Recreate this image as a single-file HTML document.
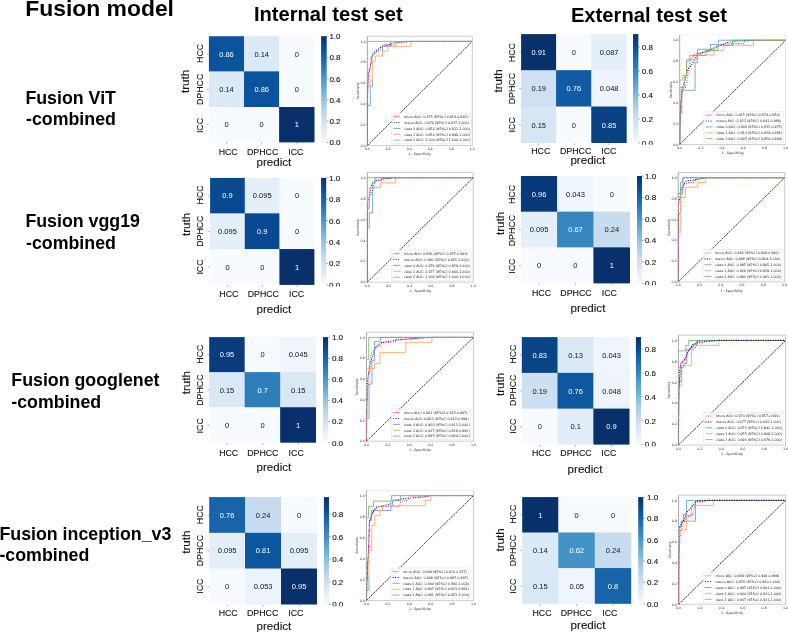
<!DOCTYPE html>
<html lang="en"><head><meta charset="utf-8"><title>Fusion model confusion matrices and ROC curves</title>
<style>html,body{margin:0;padding:0;background:#fff;}body{width:788px;height:633px;overflow:hidden;}svg{display:block;font-family:'Liberation Sans', sans-serif;}</style>
</head><body>
<svg width="788" height="633" viewBox="0 0 788 633">
<rect width="788" height="633" fill="#fff"/>
<defs><linearGradient id="gb" x1="0" y1="0" x2="0" y2="1"><stop offset="0.0000" stop-color="#08306b"/><stop offset="0.0625" stop-color="#084082"/><stop offset="0.1250" stop-color="#08509b"/><stop offset="0.1875" stop-color="#1460a8"/><stop offset="0.2500" stop-color="#2070b4"/><stop offset="0.3125" stop-color="#3181bd"/><stop offset="0.3750" stop-color="#4191c6"/><stop offset="0.4375" stop-color="#56a0ce"/><stop offset="0.5000" stop-color="#6aaed6"/><stop offset="0.5625" stop-color="#84bcdb"/><stop offset="0.6250" stop-color="#9dcae1"/><stop offset="0.6875" stop-color="#b2d2e8"/><stop offset="0.7500" stop-color="#c6dbef"/><stop offset="0.8125" stop-color="#d2e3f3"/><stop offset="0.8750" stop-color="#deebf7"/><stop offset="0.9375" stop-color="#eaf3fb"/><stop offset="1.0000" stop-color="#f7fbff"/></linearGradient></defs>
<g font-weight="bold" fill="#000">
<text x="25.2" y="15.7" font-size="22.9">Fusion model</text>
<text x="253.9" y="20.8" font-size="20.15">Internal test set</text>
<text x="570.9" y="21.6" font-size="20.2">External test set</text>
<text x="25.4" y="104.0" font-size="17.8">Fusion ViT</text>
<text x="26.0" y="125.1" font-size="17.8">-combined</text>
<text x="25.4" y="227.4" font-size="17.8">Fusion vgg19</text>
<text x="26.0" y="248.7" font-size="17.8">-combined</text>
<text x="11.3" y="386.1" font-size="17.8">Fusion googlenet</text>
<text x="11.3" y="407.7" font-size="17.8">-combined</text>
<text x="-0.6" y="539.5" font-size="17.8">Fusion inception_v3</text>
<text x="-0.6" y="561.1" font-size="17.8">-combined</text>
</g>
<g>
<rect x="209.90" y="37.20" width="34.80" height="35.00" fill="#0a549e"/>
<rect x="243.50" y="37.20" width="36.40" height="35.00" fill="#dce9f6"/>
<rect x="278.70" y="37.20" width="34.80" height="35.00" fill="#f7fbff"/>
<rect x="209.90" y="71.00" width="34.80" height="36.60" fill="#dce9f6"/>
<rect x="243.50" y="71.00" width="36.40" height="36.60" fill="#0a549e"/>
<rect x="278.70" y="71.00" width="34.80" height="36.60" fill="#f7fbff"/>
<rect x="209.90" y="106.40" width="34.80" height="35.00" fill="#f7fbff"/>
<rect x="243.50" y="106.40" width="36.40" height="35.00" fill="#f7fbff"/>
<rect x="278.70" y="106.40" width="34.80" height="35.00" fill="#08306b"/>
<rect x="208.90" y="36.20" width="35.20" height="35.40" fill="#0a549e"/>
<rect x="244.10" y="36.20" width="35.20" height="35.40" fill="#dce9f6"/>
<rect x="279.30" y="36.20" width="35.20" height="35.40" fill="#f7fbff"/>
<rect x="208.90" y="71.60" width="35.20" height="35.40" fill="#dce9f6"/>
<rect x="244.10" y="71.60" width="35.20" height="35.40" fill="#0a549e"/>
<rect x="279.30" y="71.60" width="35.20" height="35.40" fill="#f7fbff"/>
<rect x="208.90" y="107.00" width="35.20" height="35.40" fill="#f7fbff"/>
<rect x="244.10" y="107.00" width="35.20" height="35.40" fill="#f7fbff"/>
<rect x="279.30" y="107.00" width="35.20" height="35.40" fill="#08306b"/>
<text x="226.50" y="56.56" font-size="7.50" fill="#ffffff" text-anchor="middle">0.86</text>
<text x="261.70" y="56.56" font-size="7.50" fill="#141414" text-anchor="middle">0.14</text>
<text x="296.90" y="56.56" font-size="7.50" fill="#141414" text-anchor="middle">0</text>
<text x="226.50" y="91.96" font-size="7.50" fill="#141414" text-anchor="middle">0.14</text>
<text x="261.70" y="91.96" font-size="7.50" fill="#ffffff" text-anchor="middle">0.86</text>
<text x="296.90" y="91.96" font-size="7.50" fill="#141414" text-anchor="middle">0</text>
<text x="226.50" y="127.36" font-size="7.50" fill="#141414" text-anchor="middle">0</text>
<text x="261.70" y="127.36" font-size="7.50" fill="#141414" text-anchor="middle">0</text>
<text x="296.90" y="127.36" font-size="7.50" fill="#ffffff" text-anchor="middle">1</text>
<line x1="207.10" y1="53.90" x2="208.70" y2="53.90" stroke="#555" stroke-width="0.5"/>
<line x1="207.10" y1="89.30" x2="208.70" y2="89.30" stroke="#555" stroke-width="0.5"/>
<line x1="207.10" y1="124.70" x2="208.70" y2="124.70" stroke="#555" stroke-width="0.5"/>
<line x1="226.50" y1="142.70" x2="226.50" y2="144.30" stroke="#555" stroke-width="0.5"/>
<line x1="261.70" y1="142.70" x2="261.70" y2="144.30" stroke="#555" stroke-width="0.5"/>
<line x1="296.90" y1="142.70" x2="296.90" y2="144.30" stroke="#555" stroke-width="0.5"/>
<text x="228.20" y="155.00" font-size="8.80" fill="#141414" stroke="#141414" stroke-width="0.12" text-anchor="middle">HCC</text>
<text x="262.60" y="155.00" font-size="8.80" fill="#141414" stroke="#141414" stroke-width="0.12" text-anchor="middle">DPHCC</text>
<text x="295.90" y="155.00" font-size="8.80" fill="#141414" stroke="#141414" stroke-width="0.12" text-anchor="middle">ICC</text>
<text x="273.90" y="166.40" font-size="11.60" fill="#141414" stroke="#141414" stroke-width="0.12" text-anchor="middle">predict</text>
<text transform="translate(202.50 53.40) rotate(-90)" font-size="8.80" fill="#141414" stroke="#141414" stroke-width="0.12" text-anchor="middle">HCC</text>
<text transform="translate(202.50 89.40) rotate(-90)" font-size="8.80" fill="#141414" stroke="#141414" stroke-width="0.12" text-anchor="middle">DPHCC</text>
<text transform="translate(202.50 125.50) rotate(-90)" font-size="8.80" fill="#141414" stroke="#141414" stroke-width="0.12" text-anchor="middle">ICC</text>
<text transform="translate(189.20 81.50) rotate(-90)" font-size="11.60" fill="#141414" stroke="#141414" stroke-width="0.12" text-anchor="middle">truth</text>
<rect x="321.10" y="36.20" width="5.60" height="106.20" fill="url(#gb)"/>
<g>
<line x1="326.70" y1="142.40" x2="328.40" y2="142.40" stroke="#444" stroke-width="0.5"/>
<text x="329.40" y="145.28" font-size="8.00" fill="#141414" stroke="#141414" stroke-width="0.12">0.0</text>
<line x1="326.70" y1="121.16" x2="328.40" y2="121.16" stroke="#444" stroke-width="0.5"/>
<text x="329.40" y="124.04" font-size="8.00" fill="#141414" stroke="#141414" stroke-width="0.12">0.2</text>
<line x1="326.70" y1="99.92" x2="328.40" y2="99.92" stroke="#444" stroke-width="0.5"/>
<text x="329.40" y="102.80" font-size="8.00" fill="#141414" stroke="#141414" stroke-width="0.12">0.4</text>
<line x1="326.70" y1="78.68" x2="328.40" y2="78.68" stroke="#444" stroke-width="0.5"/>
<text x="329.40" y="81.56" font-size="8.00" fill="#141414" stroke="#141414" stroke-width="0.12">0.6</text>
<line x1="326.70" y1="57.44" x2="328.40" y2="57.44" stroke="#444" stroke-width="0.5"/>
<text x="329.40" y="60.32" font-size="8.00" fill="#141414" stroke="#141414" stroke-width="0.12">0.8</text>
<line x1="326.70" y1="36.20" x2="328.40" y2="36.20" stroke="#444" stroke-width="0.5"/>
<text x="329.40" y="39.08" font-size="8.00" fill="#141414" stroke="#141414" stroke-width="0.12">1.0</text>
</g>
</g>
<g>
<rect x="522.10" y="35.10" width="34.80" height="35.90" fill="#08306b"/>
<rect x="555.70" y="35.10" width="36.40" height="35.90" fill="#f7fbff"/>
<rect x="590.90" y="35.10" width="34.80" height="35.90" fill="#e4eff9"/>
<rect x="522.10" y="69.80" width="34.80" height="37.50" fill="#cee0f2"/>
<rect x="555.70" y="69.80" width="36.40" height="37.50" fill="#105ba4"/>
<rect x="590.90" y="69.80" width="34.80" height="37.50" fill="#edf4fc"/>
<rect x="522.10" y="106.10" width="34.80" height="35.90" fill="#d6e6f4"/>
<rect x="555.70" y="106.10" width="36.40" height="35.90" fill="#f7fbff"/>
<rect x="590.90" y="106.10" width="34.80" height="35.90" fill="#084184"/>
<rect x="521.10" y="34.10" width="35.20" height="36.30" fill="#08306b"/>
<rect x="556.30" y="34.10" width="35.20" height="36.30" fill="#f7fbff"/>
<rect x="591.50" y="34.10" width="35.20" height="36.30" fill="#e4eff9"/>
<rect x="521.10" y="70.40" width="35.20" height="36.30" fill="#cee0f2"/>
<rect x="556.30" y="70.40" width="35.20" height="36.30" fill="#105ba4"/>
<rect x="591.50" y="70.40" width="35.20" height="36.30" fill="#edf4fc"/>
<rect x="521.10" y="106.70" width="35.20" height="36.30" fill="#d6e6f4"/>
<rect x="556.30" y="106.70" width="35.20" height="36.30" fill="#f7fbff"/>
<rect x="591.50" y="106.70" width="35.20" height="36.30" fill="#084184"/>
<text x="538.70" y="54.91" font-size="7.50" fill="#ffffff" text-anchor="middle">0.91</text>
<text x="573.90" y="54.91" font-size="7.50" fill="#141414" text-anchor="middle">0</text>
<text x="609.10" y="54.91" font-size="7.50" fill="#141414" text-anchor="middle">0.087</text>
<text x="538.70" y="91.21" font-size="7.50" fill="#141414" text-anchor="middle">0.19</text>
<text x="573.90" y="91.21" font-size="7.50" fill="#ffffff" text-anchor="middle">0.76</text>
<text x="609.10" y="91.21" font-size="7.50" fill="#141414" text-anchor="middle">0.048</text>
<text x="538.70" y="127.51" font-size="7.50" fill="#141414" text-anchor="middle">0.15</text>
<text x="573.90" y="127.51" font-size="7.50" fill="#141414" text-anchor="middle">0</text>
<text x="609.10" y="127.51" font-size="7.50" fill="#ffffff" text-anchor="middle">0.85</text>
<line x1="519.30" y1="52.25" x2="520.90" y2="52.25" stroke="#555" stroke-width="0.5"/>
<line x1="519.30" y1="88.55" x2="520.90" y2="88.55" stroke="#555" stroke-width="0.5"/>
<line x1="519.30" y1="124.85" x2="520.90" y2="124.85" stroke="#555" stroke-width="0.5"/>
<line x1="538.70" y1="143.30" x2="538.70" y2="144.90" stroke="#555" stroke-width="0.5"/>
<line x1="573.90" y1="143.30" x2="573.90" y2="144.90" stroke="#555" stroke-width="0.5"/>
<line x1="609.10" y1="143.30" x2="609.10" y2="144.90" stroke="#555" stroke-width="0.5"/>
<text x="540.80" y="154.20" font-size="8.80" fill="#141414" stroke="#141414" stroke-width="0.12" text-anchor="middle">HCC</text>
<text x="575.60" y="154.20" font-size="8.80" fill="#141414" stroke="#141414" stroke-width="0.12" text-anchor="middle">DPHCC</text>
<text x="608.80" y="154.20" font-size="8.80" fill="#141414" stroke="#141414" stroke-width="0.12" text-anchor="middle">ICC</text>
<text x="587.80" y="164.30" font-size="11.60" fill="#141414" stroke="#141414" stroke-width="0.12" text-anchor="middle">predict</text>
<text transform="translate(514.90 52.60) rotate(-90)" font-size="8.80" fill="#141414" stroke="#141414" stroke-width="0.12" text-anchor="middle">HCC</text>
<text transform="translate(514.90 88.60) rotate(-90)" font-size="8.80" fill="#141414" stroke="#141414" stroke-width="0.12" text-anchor="middle">DPHCC</text>
<text transform="translate(514.90 124.80) rotate(-90)" font-size="8.80" fill="#141414" stroke="#141414" stroke-width="0.12" text-anchor="middle">ICC</text>
<text transform="translate(501.60 81.00) rotate(-90)" font-size="11.60" fill="#141414" stroke="#141414" stroke-width="0.12" text-anchor="middle">truth</text>
<rect x="633.00" y="34.10" width="5.40" height="108.90" fill="url(#gb)"/>
<clipPath id="cl1"><rect x="632.00" y="0" width="40" height="144.70"/></clipPath>
<g clip-path="url(#cl1)">
<line x1="638.40" y1="143.00" x2="640.10" y2="143.00" stroke="#444" stroke-width="0.5"/>
<text x="641.80" y="145.88" font-size="8.00" fill="#141414" stroke="#141414" stroke-width="0.12">0.0</text>
<line x1="638.40" y1="119.07" x2="640.10" y2="119.07" stroke="#444" stroke-width="0.5"/>
<text x="641.80" y="121.95" font-size="8.00" fill="#141414" stroke="#141414" stroke-width="0.12">0.2</text>
<line x1="638.40" y1="95.13" x2="640.10" y2="95.13" stroke="#444" stroke-width="0.5"/>
<text x="641.80" y="98.01" font-size="8.00" fill="#141414" stroke="#141414" stroke-width="0.12">0.4</text>
<line x1="638.40" y1="71.20" x2="640.10" y2="71.20" stroke="#444" stroke-width="0.5"/>
<text x="641.80" y="74.08" font-size="8.00" fill="#141414" stroke="#141414" stroke-width="0.12">0.6</text>
<line x1="638.40" y1="47.26" x2="640.10" y2="47.26" stroke="#444" stroke-width="0.5"/>
<text x="641.80" y="50.14" font-size="8.00" fill="#141414" stroke="#141414" stroke-width="0.12">0.8</text>
</g>
</g>
<g>
<rect x="211.10" y="178.90" width="34.37" height="35.27" fill="#084a91"/>
<rect x="244.27" y="178.90" width="35.97" height="35.27" fill="#e4eff9"/>
<rect x="279.03" y="178.90" width="34.37" height="35.27" fill="#f7fbff"/>
<rect x="211.10" y="212.97" width="34.37" height="36.87" fill="#e4eff9"/>
<rect x="244.27" y="212.97" width="35.97" height="36.87" fill="#084a91"/>
<rect x="279.03" y="212.97" width="34.37" height="36.87" fill="#f7fbff"/>
<rect x="211.10" y="248.63" width="34.37" height="35.27" fill="#f7fbff"/>
<rect x="244.27" y="248.63" width="35.97" height="35.27" fill="#f7fbff"/>
<rect x="279.03" y="248.63" width="34.37" height="35.27" fill="#08306b"/>
<rect x="210.10" y="177.90" width="34.77" height="35.67" fill="#084a91"/>
<rect x="244.87" y="177.90" width="34.77" height="35.67" fill="#e4eff9"/>
<rect x="279.63" y="177.90" width="34.77" height="35.67" fill="#f7fbff"/>
<rect x="210.10" y="213.57" width="34.77" height="35.67" fill="#e4eff9"/>
<rect x="244.87" y="213.57" width="34.77" height="35.67" fill="#084a91"/>
<rect x="279.63" y="213.57" width="34.77" height="35.67" fill="#f7fbff"/>
<rect x="210.10" y="249.23" width="34.77" height="35.67" fill="#f7fbff"/>
<rect x="244.87" y="249.23" width="34.77" height="35.67" fill="#f7fbff"/>
<rect x="279.63" y="249.23" width="34.77" height="35.67" fill="#08306b"/>
<text x="227.48" y="198.40" font-size="7.50" fill="#ffffff" text-anchor="middle">0.9</text>
<text x="262.25" y="198.40" font-size="7.50" fill="#141414" text-anchor="middle">0.095</text>
<text x="297.02" y="198.40" font-size="7.50" fill="#141414" text-anchor="middle">0</text>
<text x="227.48" y="234.06" font-size="7.50" fill="#141414" text-anchor="middle">0.095</text>
<text x="262.25" y="234.06" font-size="7.50" fill="#ffffff" text-anchor="middle">0.9</text>
<text x="297.02" y="234.06" font-size="7.50" fill="#141414" text-anchor="middle">0</text>
<text x="227.48" y="269.73" font-size="7.50" fill="#141414" text-anchor="middle">0</text>
<text x="262.25" y="269.73" font-size="7.50" fill="#141414" text-anchor="middle">0</text>
<text x="297.02" y="269.73" font-size="7.50" fill="#ffffff" text-anchor="middle">1</text>
<line x1="208.30" y1="195.73" x2="209.90" y2="195.73" stroke="#555" stroke-width="0.5"/>
<line x1="208.30" y1="231.40" x2="209.90" y2="231.40" stroke="#555" stroke-width="0.5"/>
<line x1="208.30" y1="267.07" x2="209.90" y2="267.07" stroke="#555" stroke-width="0.5"/>
<line x1="227.48" y1="285.20" x2="227.48" y2="286.80" stroke="#555" stroke-width="0.5"/>
<line x1="262.25" y1="285.20" x2="262.25" y2="286.80" stroke="#555" stroke-width="0.5"/>
<line x1="297.02" y1="285.20" x2="297.02" y2="286.80" stroke="#555" stroke-width="0.5"/>
<text x="228.90" y="296.60" font-size="8.80" fill="#141414" stroke="#141414" stroke-width="0.12" text-anchor="middle">HCC</text>
<text x="263.30" y="296.60" font-size="8.80" fill="#141414" stroke="#141414" stroke-width="0.12" text-anchor="middle">DPHCC</text>
<text x="296.60" y="296.60" font-size="8.80" fill="#141414" stroke="#141414" stroke-width="0.12" text-anchor="middle">ICC</text>
<text x="273.90" y="312.50" font-size="11.60" fill="#141414" stroke="#141414" stroke-width="0.12" text-anchor="middle">predict</text>
<text transform="translate(203.10 194.90) rotate(-90)" font-size="8.80" fill="#141414" stroke="#141414" stroke-width="0.12" text-anchor="middle">HCC</text>
<text transform="translate(203.10 231.20) rotate(-90)" font-size="8.80" fill="#141414" stroke="#141414" stroke-width="0.12" text-anchor="middle">DPHCC</text>
<text transform="translate(203.10 267.00) rotate(-90)" font-size="8.80" fill="#141414" stroke="#141414" stroke-width="0.12" text-anchor="middle">ICC</text>
<text transform="translate(189.60 224.40) rotate(-90)" font-size="11.60" fill="#141414" stroke="#141414" stroke-width="0.12" text-anchor="middle">truth</text>
<rect x="321.10" y="177.90" width="5.10" height="107.00" fill="url(#gb)"/>
<clipPath id="cl2"><rect x="320.10" y="0" width="40" height="286.60"/></clipPath>
<g clip-path="url(#cl2)">
<line x1="326.20" y1="284.90" x2="327.90" y2="284.90" stroke="#444" stroke-width="0.5"/>
<text x="329.00" y="287.78" font-size="8.00" fill="#141414" stroke="#141414" stroke-width="0.12">0.0</text>
<line x1="326.20" y1="263.50" x2="327.90" y2="263.50" stroke="#444" stroke-width="0.5"/>
<text x="329.00" y="266.38" font-size="8.00" fill="#141414" stroke="#141414" stroke-width="0.12">0.2</text>
<line x1="326.20" y1="242.10" x2="327.90" y2="242.10" stroke="#444" stroke-width="0.5"/>
<text x="329.00" y="244.98" font-size="8.00" fill="#141414" stroke="#141414" stroke-width="0.12">0.4</text>
<line x1="326.20" y1="220.70" x2="327.90" y2="220.70" stroke="#444" stroke-width="0.5"/>
<text x="329.00" y="223.58" font-size="8.00" fill="#141414" stroke="#141414" stroke-width="0.12">0.6</text>
<line x1="326.20" y1="199.30" x2="327.90" y2="199.30" stroke="#444" stroke-width="0.5"/>
<text x="329.00" y="202.18" font-size="8.00" fill="#141414" stroke="#141414" stroke-width="0.12">0.8</text>
<line x1="326.20" y1="177.90" x2="327.90" y2="177.90" stroke="#444" stroke-width="0.5"/>
<text x="329.00" y="180.78" font-size="8.00" fill="#141414" stroke="#141414" stroke-width="0.12">1.0</text>
</g>
</g>
<g>
<rect x="521.90" y="177.00" width="35.97" height="35.40" fill="#083a7a"/>
<rect x="556.67" y="177.00" width="37.57" height="35.40" fill="#eef5fc"/>
<rect x="593.03" y="177.00" width="35.97" height="35.40" fill="#f7fbff"/>
<rect x="521.90" y="211.20" width="35.97" height="37.00" fill="#e4eff9"/>
<rect x="556.67" y="211.20" width="37.57" height="37.00" fill="#3686c0"/>
<rect x="593.03" y="211.20" width="35.97" height="37.00" fill="#c8dcf0"/>
<rect x="521.90" y="247.00" width="35.97" height="35.40" fill="#f7fbff"/>
<rect x="556.67" y="247.00" width="37.57" height="35.40" fill="#f7fbff"/>
<rect x="593.03" y="247.00" width="35.97" height="35.40" fill="#08306b"/>
<rect x="520.90" y="176.00" width="36.37" height="35.80" fill="#083a7a"/>
<rect x="557.27" y="176.00" width="36.37" height="35.80" fill="#eef5fc"/>
<rect x="593.63" y="176.00" width="36.37" height="35.80" fill="#f7fbff"/>
<rect x="520.90" y="211.80" width="36.37" height="35.80" fill="#e4eff9"/>
<rect x="557.27" y="211.80" width="36.37" height="35.80" fill="#3686c0"/>
<rect x="593.63" y="211.80" width="36.37" height="35.80" fill="#c8dcf0"/>
<rect x="520.90" y="247.60" width="36.37" height="35.80" fill="#f7fbff"/>
<rect x="557.27" y="247.60" width="36.37" height="35.80" fill="#f7fbff"/>
<rect x="593.63" y="247.60" width="36.37" height="35.80" fill="#08306b"/>
<text x="539.08" y="196.56" font-size="7.50" fill="#ffffff" text-anchor="middle">0.96</text>
<text x="575.45" y="196.56" font-size="7.50" fill="#141414" text-anchor="middle">0.043</text>
<text x="611.82" y="196.56" font-size="7.50" fill="#141414" text-anchor="middle">0</text>
<text x="539.08" y="232.36" font-size="7.50" fill="#141414" text-anchor="middle">0.095</text>
<text x="575.45" y="232.36" font-size="7.50" fill="#ffffff" text-anchor="middle">0.67</text>
<text x="611.82" y="232.36" font-size="7.50" fill="#141414" text-anchor="middle">0.24</text>
<text x="539.08" y="268.16" font-size="7.50" fill="#141414" text-anchor="middle">0</text>
<text x="575.45" y="268.16" font-size="7.50" fill="#141414" text-anchor="middle">0</text>
<text x="611.82" y="268.16" font-size="7.50" fill="#ffffff" text-anchor="middle">1</text>
<line x1="519.10" y1="193.90" x2="520.70" y2="193.90" stroke="#555" stroke-width="0.5"/>
<line x1="519.10" y1="229.70" x2="520.70" y2="229.70" stroke="#555" stroke-width="0.5"/>
<line x1="519.10" y1="265.50" x2="520.70" y2="265.50" stroke="#555" stroke-width="0.5"/>
<line x1="539.08" y1="283.70" x2="539.08" y2="285.30" stroke="#555" stroke-width="0.5"/>
<line x1="575.45" y1="283.70" x2="575.45" y2="285.30" stroke="#555" stroke-width="0.5"/>
<line x1="611.82" y1="283.70" x2="611.82" y2="285.30" stroke="#555" stroke-width="0.5"/>
<text x="541.50" y="295.70" font-size="8.80" fill="#141414" stroke="#141414" stroke-width="0.12" text-anchor="middle">HCC</text>
<text x="576.00" y="295.70" font-size="8.80" fill="#141414" stroke="#141414" stroke-width="0.12" text-anchor="middle">DPHCC</text>
<text x="609.30" y="295.70" font-size="8.80" fill="#141414" stroke="#141414" stroke-width="0.12" text-anchor="middle">ICC</text>
<text x="588.00" y="312.20" font-size="11.60" fill="#141414" stroke="#141414" stroke-width="0.12" text-anchor="middle">predict</text>
<text transform="translate(515.40 194.50) rotate(-90)" font-size="8.80" fill="#141414" stroke="#141414" stroke-width="0.12" text-anchor="middle">HCC</text>
<text transform="translate(515.40 230.60) rotate(-90)" font-size="8.80" fill="#141414" stroke="#141414" stroke-width="0.12" text-anchor="middle">DPHCC</text>
<text transform="translate(515.40 266.10) rotate(-90)" font-size="8.80" fill="#141414" stroke="#141414" stroke-width="0.12" text-anchor="middle">ICC</text>
<text transform="translate(503.70 223.50) rotate(-90)" font-size="11.60" fill="#141414" stroke="#141414" stroke-width="0.12" text-anchor="middle">truth</text>
<rect x="637.00" y="176.00" width="5.00" height="107.40" fill="url(#gb)"/>
<clipPath id="cl3"><rect x="636.00" y="0" width="40" height="285.10"/></clipPath>
<g clip-path="url(#cl3)">
<line x1="642.00" y1="283.40" x2="643.70" y2="283.40" stroke="#444" stroke-width="0.5"/>
<text x="645.00" y="286.28" font-size="8.00" fill="#141414" stroke="#141414" stroke-width="0.12">0.0</text>
<line x1="642.00" y1="261.92" x2="643.70" y2="261.92" stroke="#444" stroke-width="0.5"/>
<text x="645.00" y="264.80" font-size="8.00" fill="#141414" stroke="#141414" stroke-width="0.12">0.2</text>
<line x1="642.00" y1="240.44" x2="643.70" y2="240.44" stroke="#444" stroke-width="0.5"/>
<text x="645.00" y="243.32" font-size="8.00" fill="#141414" stroke="#141414" stroke-width="0.12">0.4</text>
<line x1="642.00" y1="218.96" x2="643.70" y2="218.96" stroke="#444" stroke-width="0.5"/>
<text x="645.00" y="221.84" font-size="8.00" fill="#141414" stroke="#141414" stroke-width="0.12">0.6</text>
<line x1="642.00" y1="197.48" x2="643.70" y2="197.48" stroke="#444" stroke-width="0.5"/>
<text x="645.00" y="200.36" font-size="8.00" fill="#141414" stroke="#141414" stroke-width="0.12">0.8</text>
<line x1="642.00" y1="176.00" x2="643.70" y2="176.00" stroke="#444" stroke-width="0.5"/>
<text x="645.00" y="178.88" font-size="8.00" fill="#141414" stroke="#141414" stroke-width="0.12">1.0</text>
</g>
</g>
<g>
<rect x="210.20" y="338.10" width="35.20" height="34.80" fill="#083c7d"/>
<rect x="244.20" y="338.10" width="36.80" height="34.80" fill="#f7fbff"/>
<rect x="279.80" y="338.10" width="35.20" height="34.80" fill="#eef5fc"/>
<rect x="210.20" y="371.70" width="35.20" height="36.40" fill="#d9e8f5"/>
<rect x="244.20" y="371.70" width="36.80" height="36.40" fill="#2e7ebc"/>
<rect x="279.80" y="371.70" width="35.20" height="36.40" fill="#d9e8f5"/>
<rect x="210.20" y="406.90" width="35.20" height="34.80" fill="#f7fbff"/>
<rect x="244.20" y="406.90" width="36.80" height="34.80" fill="#f7fbff"/>
<rect x="279.80" y="406.90" width="35.20" height="34.80" fill="#08306b"/>
<rect x="209.20" y="337.10" width="35.60" height="35.20" fill="#083c7d"/>
<rect x="244.80" y="337.10" width="35.60" height="35.20" fill="#f7fbff"/>
<rect x="280.40" y="337.10" width="35.60" height="35.20" fill="#eef5fc"/>
<rect x="209.20" y="372.30" width="35.60" height="35.20" fill="#d9e8f5"/>
<rect x="244.80" y="372.30" width="35.60" height="35.20" fill="#2e7ebc"/>
<rect x="280.40" y="372.30" width="35.60" height="35.20" fill="#d9e8f5"/>
<rect x="209.20" y="407.50" width="35.60" height="35.20" fill="#f7fbff"/>
<rect x="244.80" y="407.50" width="35.60" height="35.20" fill="#f7fbff"/>
<rect x="280.40" y="407.50" width="35.60" height="35.20" fill="#08306b"/>
<text x="227.00" y="357.36" font-size="7.50" fill="#ffffff" text-anchor="middle">0.95</text>
<text x="262.60" y="357.36" font-size="7.50" fill="#141414" text-anchor="middle">0</text>
<text x="298.20" y="357.36" font-size="7.50" fill="#141414" text-anchor="middle">0.045</text>
<text x="227.00" y="392.56" font-size="7.50" fill="#141414" text-anchor="middle">0.15</text>
<text x="262.60" y="392.56" font-size="7.50" fill="#ffffff" text-anchor="middle">0.7</text>
<text x="298.20" y="392.56" font-size="7.50" fill="#141414" text-anchor="middle">0.15</text>
<text x="227.00" y="427.76" font-size="7.50" fill="#141414" text-anchor="middle">0</text>
<text x="262.60" y="427.76" font-size="7.50" fill="#141414" text-anchor="middle">0</text>
<text x="298.20" y="427.76" font-size="7.50" fill="#ffffff" text-anchor="middle">1</text>
<line x1="207.40" y1="354.70" x2="209.00" y2="354.70" stroke="#555" stroke-width="0.5"/>
<line x1="207.40" y1="389.90" x2="209.00" y2="389.90" stroke="#555" stroke-width="0.5"/>
<line x1="207.40" y1="425.10" x2="209.00" y2="425.10" stroke="#555" stroke-width="0.5"/>
<line x1="227.00" y1="443.00" x2="227.00" y2="444.60" stroke="#555" stroke-width="0.5"/>
<line x1="262.60" y1="443.00" x2="262.60" y2="444.60" stroke="#555" stroke-width="0.5"/>
<line x1="298.20" y1="443.00" x2="298.20" y2="444.60" stroke="#555" stroke-width="0.5"/>
<text x="228.70" y="455.50" font-size="8.80" fill="#141414" stroke="#141414" stroke-width="0.12" text-anchor="middle">HCC</text>
<text x="262.80" y="455.50" font-size="8.80" fill="#141414" stroke="#141414" stroke-width="0.12" text-anchor="middle">DPHCC</text>
<text x="296.20" y="455.50" font-size="8.80" fill="#141414" stroke="#141414" stroke-width="0.12" text-anchor="middle">ICC</text>
<text x="273.90" y="470.60" font-size="11.60" fill="#141414" stroke="#141414" stroke-width="0.12" text-anchor="middle">predict</text>
<text transform="translate(202.90 354.10) rotate(-90)" font-size="8.80" fill="#141414" stroke="#141414" stroke-width="0.12" text-anchor="middle">HCC</text>
<text transform="translate(202.90 390.10) rotate(-90)" font-size="8.80" fill="#141414" stroke="#141414" stroke-width="0.12" text-anchor="middle">DPHCC</text>
<text transform="translate(202.90 425.80) rotate(-90)" font-size="8.80" fill="#141414" stroke="#141414" stroke-width="0.12" text-anchor="middle">ICC</text>
<text transform="translate(189.60 382.70) rotate(-90)" font-size="11.60" fill="#141414" stroke="#141414" stroke-width="0.12" text-anchor="middle">truth</text>
<rect x="323.00" y="337.10" width="5.10" height="105.60" fill="url(#gb)"/>
<g>
<line x1="328.10" y1="442.70" x2="329.80" y2="442.70" stroke="#444" stroke-width="0.5"/>
<text x="331.90" y="445.58" font-size="8.00" fill="#141414" stroke="#141414" stroke-width="0.12">0.0</text>
<line x1="328.10" y1="421.58" x2="329.80" y2="421.58" stroke="#444" stroke-width="0.5"/>
<text x="331.90" y="424.46" font-size="8.00" fill="#141414" stroke="#141414" stroke-width="0.12">0.2</text>
<line x1="328.10" y1="400.46" x2="329.80" y2="400.46" stroke="#444" stroke-width="0.5"/>
<text x="331.90" y="403.34" font-size="8.00" fill="#141414" stroke="#141414" stroke-width="0.12">0.4</text>
<line x1="328.10" y1="379.34" x2="329.80" y2="379.34" stroke="#444" stroke-width="0.5"/>
<text x="331.90" y="382.22" font-size="8.00" fill="#141414" stroke="#141414" stroke-width="0.12">0.6</text>
<line x1="328.10" y1="358.22" x2="329.80" y2="358.22" stroke="#444" stroke-width="0.5"/>
<text x="331.90" y="361.10" font-size="8.00" fill="#141414" stroke="#141414" stroke-width="0.12">0.8</text>
<line x1="328.10" y1="337.10" x2="329.80" y2="337.10" stroke="#444" stroke-width="0.5"/>
<text x="331.90" y="339.98" font-size="8.00" fill="#141414" stroke="#141414" stroke-width="0.12">1.0</text>
</g>
</g>
<g>
<rect x="522.80" y="338.10" width="35.50" height="35.43" fill="#084488"/>
<rect x="557.10" y="338.10" width="37.10" height="35.43" fill="#dbe9f6"/>
<rect x="593.00" y="338.10" width="35.50" height="35.43" fill="#eef5fc"/>
<rect x="522.80" y="372.33" width="35.50" height="37.03" fill="#cde0f1"/>
<rect x="557.10" y="372.33" width="37.10" height="37.03" fill="#0e58a2"/>
<rect x="593.00" y="372.33" width="35.50" height="37.03" fill="#edf4fc"/>
<rect x="522.80" y="408.17" width="35.50" height="35.43" fill="#f7fbff"/>
<rect x="557.10" y="408.17" width="37.10" height="35.43" fill="#e1edf8"/>
<rect x="593.00" y="408.17" width="35.50" height="35.43" fill="#08306b"/>
<rect x="521.80" y="337.10" width="35.90" height="35.83" fill="#084488"/>
<rect x="557.70" y="337.10" width="35.90" height="35.83" fill="#dbe9f6"/>
<rect x="593.60" y="337.10" width="35.90" height="35.83" fill="#eef5fc"/>
<rect x="521.80" y="372.93" width="35.90" height="35.83" fill="#cde0f1"/>
<rect x="557.70" y="372.93" width="35.90" height="35.83" fill="#0e58a2"/>
<rect x="593.60" y="372.93" width="35.90" height="35.83" fill="#edf4fc"/>
<rect x="521.80" y="408.77" width="35.90" height="35.83" fill="#f7fbff"/>
<rect x="557.70" y="408.77" width="35.90" height="35.83" fill="#e1edf8"/>
<rect x="593.60" y="408.77" width="35.90" height="35.83" fill="#08306b"/>
<text x="539.75" y="357.68" font-size="7.50" fill="#ffffff" text-anchor="middle">0.83</text>
<text x="575.65" y="357.68" font-size="7.50" fill="#141414" text-anchor="middle">0.13</text>
<text x="611.55" y="357.68" font-size="7.50" fill="#141414" text-anchor="middle">0.043</text>
<text x="539.75" y="393.51" font-size="7.50" fill="#141414" text-anchor="middle">0.19</text>
<text x="575.65" y="393.51" font-size="7.50" fill="#ffffff" text-anchor="middle">0.76</text>
<text x="611.55" y="393.51" font-size="7.50" fill="#141414" text-anchor="middle">0.048</text>
<text x="539.75" y="429.35" font-size="7.50" fill="#141414" text-anchor="middle">0</text>
<text x="575.65" y="429.35" font-size="7.50" fill="#141414" text-anchor="middle">0.1</text>
<text x="611.55" y="429.35" font-size="7.50" fill="#ffffff" text-anchor="middle">0.9</text>
<line x1="520.00" y1="355.02" x2="521.60" y2="355.02" stroke="#555" stroke-width="0.5"/>
<line x1="520.00" y1="390.85" x2="521.60" y2="390.85" stroke="#555" stroke-width="0.5"/>
<line x1="520.00" y1="426.68" x2="521.60" y2="426.68" stroke="#555" stroke-width="0.5"/>
<line x1="539.75" y1="444.90" x2="539.75" y2="446.50" stroke="#555" stroke-width="0.5"/>
<line x1="575.65" y1="444.90" x2="575.65" y2="446.50" stroke="#555" stroke-width="0.5"/>
<line x1="611.55" y1="444.90" x2="611.55" y2="446.50" stroke="#555" stroke-width="0.5"/>
<text x="541.50" y="455.50" font-size="8.80" fill="#141414" stroke="#141414" stroke-width="0.12" text-anchor="middle">HCC</text>
<text x="576.00" y="455.50" font-size="8.80" fill="#141414" stroke="#141414" stroke-width="0.12" text-anchor="middle">DPHCC</text>
<text x="608.90" y="455.50" font-size="8.80" fill="#141414" stroke="#141414" stroke-width="0.12" text-anchor="middle">ICC</text>
<text x="585.00" y="473.20" font-size="11.60" fill="#141414" stroke="#141414" stroke-width="0.12" text-anchor="middle">predict</text>
<text transform="translate(515.80 354.10) rotate(-90)" font-size="8.80" fill="#141414" stroke="#141414" stroke-width="0.12" text-anchor="middle">HCC</text>
<text transform="translate(515.80 390.30) rotate(-90)" font-size="8.80" fill="#141414" stroke="#141414" stroke-width="0.12" text-anchor="middle">DPHCC</text>
<text transform="translate(515.80 426.10) rotate(-90)" font-size="8.80" fill="#141414" stroke="#141414" stroke-width="0.12" text-anchor="middle">ICC</text>
<text transform="translate(503.70 384.40) rotate(-90)" font-size="11.60" fill="#141414" stroke="#141414" stroke-width="0.12" text-anchor="middle">truth</text>
<rect x="635.90" y="337.10" width="5.10" height="107.50" fill="url(#gb)"/>
<clipPath id="cl5"><rect x="634.90" y="0" width="40" height="446.30"/></clipPath>
<g clip-path="url(#cl5)">
<line x1="641.00" y1="444.60" x2="642.70" y2="444.60" stroke="#444" stroke-width="0.5"/>
<text x="644.80" y="447.48" font-size="8.00" fill="#141414" stroke="#141414" stroke-width="0.12">0.0</text>
<line x1="641.00" y1="420.71" x2="642.70" y2="420.71" stroke="#444" stroke-width="0.5"/>
<text x="644.80" y="423.59" font-size="8.00" fill="#141414" stroke="#141414" stroke-width="0.12">0.2</text>
<line x1="641.00" y1="396.82" x2="642.70" y2="396.82" stroke="#444" stroke-width="0.5"/>
<text x="644.80" y="399.70" font-size="8.00" fill="#141414" stroke="#141414" stroke-width="0.12">0.4</text>
<line x1="641.00" y1="372.93" x2="642.70" y2="372.93" stroke="#444" stroke-width="0.5"/>
<text x="644.80" y="375.81" font-size="8.00" fill="#141414" stroke="#141414" stroke-width="0.12">0.6</text>
<line x1="641.00" y1="349.04" x2="642.70" y2="349.04" stroke="#444" stroke-width="0.5"/>
<text x="644.80" y="351.92" font-size="8.00" fill="#141414" stroke="#141414" stroke-width="0.12">0.8</text>
</g>
</g>
<g>
<rect x="210.20" y="498.10" width="35.53" height="35.40" fill="#1764ab"/>
<rect x="244.53" y="498.10" width="37.13" height="35.40" fill="#c6dbef"/>
<rect x="280.47" y="498.10" width="35.53" height="35.40" fill="#f7fbff"/>
<rect x="210.20" y="532.30" width="35.53" height="37.00" fill="#e3eef9"/>
<rect x="244.53" y="532.30" width="37.13" height="37.00" fill="#0c56a0"/>
<rect x="280.47" y="532.30" width="35.53" height="37.00" fill="#e3eef9"/>
<rect x="210.20" y="568.10" width="35.53" height="35.40" fill="#f7fbff"/>
<rect x="244.53" y="568.10" width="37.13" height="35.40" fill="#ecf4fb"/>
<rect x="280.47" y="568.10" width="35.53" height="35.40" fill="#08306b"/>
<rect x="209.20" y="497.10" width="35.93" height="35.80" fill="#1764ab"/>
<rect x="245.13" y="497.10" width="35.93" height="35.80" fill="#c6dbef"/>
<rect x="281.07" y="497.10" width="35.93" height="35.80" fill="#f7fbff"/>
<rect x="209.20" y="532.90" width="35.93" height="35.80" fill="#e3eef9"/>
<rect x="245.13" y="532.90" width="35.93" height="35.80" fill="#0c56a0"/>
<rect x="281.07" y="532.90" width="35.93" height="35.80" fill="#e3eef9"/>
<rect x="209.20" y="568.70" width="35.93" height="35.80" fill="#f7fbff"/>
<rect x="245.13" y="568.70" width="35.93" height="35.80" fill="#ecf4fb"/>
<rect x="281.07" y="568.70" width="35.93" height="35.80" fill="#08306b"/>
<text x="227.17" y="517.66" font-size="7.50" fill="#ffffff" text-anchor="middle">0.76</text>
<text x="263.10" y="517.66" font-size="7.50" fill="#141414" text-anchor="middle">0.24</text>
<text x="299.03" y="517.66" font-size="7.50" fill="#141414" text-anchor="middle">0</text>
<text x="227.17" y="553.46" font-size="7.50" fill="#141414" text-anchor="middle">0.095</text>
<text x="263.10" y="553.46" font-size="7.50" fill="#ffffff" text-anchor="middle">0.81</text>
<text x="299.03" y="553.46" font-size="7.50" fill="#141414" text-anchor="middle">0.095</text>
<text x="227.17" y="589.26" font-size="7.50" fill="#141414" text-anchor="middle">0</text>
<text x="263.10" y="589.26" font-size="7.50" fill="#141414" text-anchor="middle">0.053</text>
<text x="299.03" y="589.26" font-size="7.50" fill="#ffffff" text-anchor="middle">0.95</text>
<line x1="207.40" y1="515.00" x2="209.00" y2="515.00" stroke="#555" stroke-width="0.5"/>
<line x1="207.40" y1="550.80" x2="209.00" y2="550.80" stroke="#555" stroke-width="0.5"/>
<line x1="207.40" y1="586.60" x2="209.00" y2="586.60" stroke="#555" stroke-width="0.5"/>
<line x1="227.17" y1="604.80" x2="227.17" y2="606.40" stroke="#555" stroke-width="0.5"/>
<line x1="263.10" y1="604.80" x2="263.10" y2="606.40" stroke="#555" stroke-width="0.5"/>
<line x1="299.03" y1="604.80" x2="299.03" y2="606.40" stroke="#555" stroke-width="0.5"/>
<text x="228.20" y="615.80" font-size="8.80" fill="#141414" stroke="#141414" stroke-width="0.12" text-anchor="middle">HCC</text>
<text x="262.60" y="615.80" font-size="8.80" fill="#141414" stroke="#141414" stroke-width="0.12" text-anchor="middle">DPHCC</text>
<text x="295.90" y="615.80" font-size="8.80" fill="#141414" stroke="#141414" stroke-width="0.12" text-anchor="middle">ICC</text>
<text x="273.90" y="630.00" font-size="11.60" fill="#141414" stroke="#141414" stroke-width="0.12" text-anchor="middle">predict</text>
<text transform="translate(202.90 514.60) rotate(-90)" font-size="8.80" fill="#141414" stroke="#141414" stroke-width="0.12" text-anchor="middle">HCC</text>
<text transform="translate(202.90 550.60) rotate(-90)" font-size="8.80" fill="#141414" stroke="#141414" stroke-width="0.12" text-anchor="middle">DPHCC</text>
<text transform="translate(202.90 586.10) rotate(-90)" font-size="8.80" fill="#141414" stroke="#141414" stroke-width="0.12" text-anchor="middle">ICC</text>
<text transform="translate(189.60 542.20) rotate(-90)" font-size="11.60" fill="#141414" stroke="#141414" stroke-width="0.12" text-anchor="middle">truth</text>
<rect x="323.90" y="497.10" width="5.10" height="107.40" fill="url(#gb)"/>
<clipPath id="cl6"><rect x="322.90" y="0" width="40" height="606.20"/></clipPath>
<g clip-path="url(#cl6)">
<line x1="329.00" y1="604.50" x2="330.70" y2="604.50" stroke="#444" stroke-width="0.5"/>
<text x="332.20" y="607.38" font-size="8.00" fill="#141414" stroke="#141414" stroke-width="0.12">0.0</text>
<line x1="329.00" y1="581.89" x2="330.70" y2="581.89" stroke="#444" stroke-width="0.5"/>
<text x="332.20" y="584.77" font-size="8.00" fill="#141414" stroke="#141414" stroke-width="0.12">0.2</text>
<line x1="329.00" y1="559.28" x2="330.70" y2="559.28" stroke="#444" stroke-width="0.5"/>
<text x="332.20" y="562.16" font-size="8.00" fill="#141414" stroke="#141414" stroke-width="0.12">0.4</text>
<line x1="329.00" y1="536.67" x2="330.70" y2="536.67" stroke="#444" stroke-width="0.5"/>
<text x="332.20" y="539.55" font-size="8.00" fill="#141414" stroke="#141414" stroke-width="0.12">0.6</text>
<line x1="329.00" y1="514.06" x2="330.70" y2="514.06" stroke="#444" stroke-width="0.5"/>
<text x="332.20" y="516.94" font-size="8.00" fill="#141414" stroke="#141414" stroke-width="0.12">0.8</text>
</g>
</g>
<g>
<rect x="523.20" y="498.10" width="35.93" height="35.17" fill="#08306b"/>
<rect x="557.93" y="498.10" width="37.53" height="35.17" fill="#f7fbff"/>
<rect x="594.27" y="498.10" width="35.93" height="35.17" fill="#f7fbff"/>
<rect x="523.20" y="532.07" width="35.93" height="36.77" fill="#dce9f6"/>
<rect x="557.93" y="532.07" width="37.53" height="36.77" fill="#4493c7"/>
<rect x="594.27" y="532.07" width="35.93" height="36.77" fill="#c8dcf0"/>
<rect x="523.20" y="567.63" width="35.93" height="35.17" fill="#d9e8f5"/>
<rect x="557.93" y="567.63" width="37.53" height="35.17" fill="#eef5fc"/>
<rect x="594.27" y="567.63" width="35.93" height="35.17" fill="#1764ab"/>
<rect x="522.20" y="497.10" width="36.33" height="35.57" fill="#08306b"/>
<rect x="558.53" y="497.10" width="36.33" height="35.57" fill="#f7fbff"/>
<rect x="594.87" y="497.10" width="36.33" height="35.57" fill="#f7fbff"/>
<rect x="522.20" y="532.67" width="36.33" height="35.57" fill="#dce9f6"/>
<rect x="558.53" y="532.67" width="36.33" height="35.57" fill="#4493c7"/>
<rect x="594.87" y="532.67" width="36.33" height="35.57" fill="#c8dcf0"/>
<rect x="522.20" y="568.23" width="36.33" height="35.57" fill="#d9e8f5"/>
<rect x="558.53" y="568.23" width="36.33" height="35.57" fill="#eef5fc"/>
<rect x="594.87" y="568.23" width="36.33" height="35.57" fill="#1764ab"/>
<text x="540.37" y="517.55" font-size="7.50" fill="#ffffff" text-anchor="middle">1</text>
<text x="576.70" y="517.55" font-size="7.50" fill="#141414" text-anchor="middle">0</text>
<text x="613.03" y="517.55" font-size="7.50" fill="#141414" text-anchor="middle">0</text>
<text x="540.37" y="553.11" font-size="7.50" fill="#141414" text-anchor="middle">0.14</text>
<text x="576.70" y="553.11" font-size="7.50" fill="#ffffff" text-anchor="middle">0.62</text>
<text x="613.03" y="553.11" font-size="7.50" fill="#141414" text-anchor="middle">0.24</text>
<text x="540.37" y="588.68" font-size="7.50" fill="#141414" text-anchor="middle">0.15</text>
<text x="576.70" y="588.68" font-size="7.50" fill="#141414" text-anchor="middle">0.05</text>
<text x="613.03" y="588.68" font-size="7.50" fill="#ffffff" text-anchor="middle">0.8</text>
<line x1="520.40" y1="514.88" x2="522.00" y2="514.88" stroke="#555" stroke-width="0.5"/>
<line x1="520.40" y1="550.45" x2="522.00" y2="550.45" stroke="#555" stroke-width="0.5"/>
<line x1="520.40" y1="586.02" x2="522.00" y2="586.02" stroke="#555" stroke-width="0.5"/>
<line x1="540.37" y1="604.10" x2="540.37" y2="605.70" stroke="#555" stroke-width="0.5"/>
<line x1="576.70" y1="604.10" x2="576.70" y2="605.70" stroke="#555" stroke-width="0.5"/>
<line x1="613.03" y1="604.10" x2="613.03" y2="605.70" stroke="#555" stroke-width="0.5"/>
<text x="542.00" y="615.80" font-size="8.80" fill="#141414" stroke="#141414" stroke-width="0.12" text-anchor="middle">HCC</text>
<text x="576.30" y="615.80" font-size="8.80" fill="#141414" stroke="#141414" stroke-width="0.12" text-anchor="middle">DPHCC</text>
<text x="609.90" y="615.80" font-size="8.80" fill="#141414" stroke="#141414" stroke-width="0.12" text-anchor="middle">ICC</text>
<text x="588.00" y="628.60" font-size="11.60" fill="#141414" stroke="#141414" stroke-width="0.12" text-anchor="middle">predict</text>
<text transform="translate(515.80 514.10) rotate(-90)" font-size="8.80" fill="#141414" stroke="#141414" stroke-width="0.12" text-anchor="middle">HCC</text>
<text transform="translate(515.80 550.60) rotate(-90)" font-size="8.80" fill="#141414" stroke="#141414" stroke-width="0.12" text-anchor="middle">DPHCC</text>
<text transform="translate(515.80 586.10) rotate(-90)" font-size="8.80" fill="#141414" stroke="#141414" stroke-width="0.12" text-anchor="middle">ICC</text>
<text transform="translate(504.10 540.00) rotate(-90)" font-size="11.60" fill="#141414" stroke="#141414" stroke-width="0.12" text-anchor="middle">truth</text>
<rect x="638.20" y="497.10" width="5.10" height="106.70" fill="url(#gb)"/>
<g>
<line x1="643.30" y1="603.80" x2="645.00" y2="603.80" stroke="#444" stroke-width="0.5"/>
<text x="647.10" y="606.68" font-size="8.00" fill="#141414" stroke="#141414" stroke-width="0.12">0.0</text>
<line x1="643.30" y1="582.46" x2="645.00" y2="582.46" stroke="#444" stroke-width="0.5"/>
<text x="647.10" y="585.34" font-size="8.00" fill="#141414" stroke="#141414" stroke-width="0.12">0.2</text>
<line x1="643.30" y1="561.12" x2="645.00" y2="561.12" stroke="#444" stroke-width="0.5"/>
<text x="647.10" y="564.00" font-size="8.00" fill="#141414" stroke="#141414" stroke-width="0.12">0.4</text>
<line x1="643.30" y1="539.78" x2="645.00" y2="539.78" stroke="#444" stroke-width="0.5"/>
<text x="647.10" y="542.66" font-size="8.00" fill="#141414" stroke="#141414" stroke-width="0.12">0.6</text>
<line x1="643.30" y1="518.44" x2="645.00" y2="518.44" stroke="#444" stroke-width="0.5"/>
<text x="647.10" y="521.32" font-size="8.00" fill="#141414" stroke="#141414" stroke-width="0.12">0.8</text>
<line x1="643.30" y1="497.10" x2="645.00" y2="497.10" stroke="#444" stroke-width="0.5"/>
<text x="647.10" y="499.98" font-size="8.00" fill="#141414" stroke="#141414" stroke-width="0.12">1.0</text>
</g>
</g>
<g font-family="'DejaVu Sans', 'Liberation Sans', sans-serif">
<line x1="367.30" y1="145.50" x2="367.30" y2="146.50" stroke="#666" stroke-width="0.35"/>
<line x1="366.30" y1="145.50" x2="367.30" y2="145.50" stroke="#666" stroke-width="0.35"/>
<text x="367.30" y="150.00" font-size="3.25" fill="#222" text-anchor="middle">0.0</text>
<text x="365.70" y="146.70" font-size="3.25" fill="#222" text-anchor="end">0.0</text>
<line x1="388.30" y1="145.50" x2="388.30" y2="146.50" stroke="#666" stroke-width="0.35"/>
<line x1="366.30" y1="124.68" x2="367.30" y2="124.68" stroke="#666" stroke-width="0.35"/>
<text x="388.30" y="150.00" font-size="3.25" fill="#222" text-anchor="middle">0.2</text>
<text x="365.70" y="125.88" font-size="3.25" fill="#222" text-anchor="end">0.2</text>
<line x1="409.30" y1="145.50" x2="409.30" y2="146.50" stroke="#666" stroke-width="0.35"/>
<line x1="366.30" y1="103.86" x2="367.30" y2="103.86" stroke="#666" stroke-width="0.35"/>
<text x="409.30" y="150.00" font-size="3.25" fill="#222" text-anchor="middle">0.4</text>
<text x="365.70" y="105.06" font-size="3.25" fill="#222" text-anchor="end">0.4</text>
<line x1="430.30" y1="145.50" x2="430.30" y2="146.50" stroke="#666" stroke-width="0.35"/>
<line x1="366.30" y1="83.04" x2="367.30" y2="83.04" stroke="#666" stroke-width="0.35"/>
<text x="430.30" y="150.00" font-size="3.25" fill="#222" text-anchor="middle">0.6</text>
<text x="365.70" y="84.24" font-size="3.25" fill="#222" text-anchor="end">0.6</text>
<line x1="451.30" y1="145.50" x2="451.30" y2="146.50" stroke="#666" stroke-width="0.35"/>
<line x1="366.30" y1="62.22" x2="367.30" y2="62.22" stroke="#666" stroke-width="0.35"/>
<text x="451.30" y="150.00" font-size="3.25" fill="#222" text-anchor="middle">0.8</text>
<text x="365.70" y="63.42" font-size="3.25" fill="#222" text-anchor="end">0.8</text>
<line x1="472.30" y1="145.50" x2="472.30" y2="146.50" stroke="#666" stroke-width="0.35"/>
<line x1="366.30" y1="41.40" x2="367.30" y2="41.40" stroke="#666" stroke-width="0.35"/>
<text x="472.30" y="150.00" font-size="3.25" fill="#222" text-anchor="middle">1.0</text>
<text x="365.70" y="42.60" font-size="3.25" fill="#222" text-anchor="end">1.0</text>
<text x="419.80" y="155.10" font-size="3.25" fill="#222" text-anchor="middle">1 - Specificity</text>
<text transform="translate(359.30 90.85) rotate(-90)" font-size="3.25" fill="#222" text-anchor="middle">Sensitivity</text>
<clipPath id="rc0"><rect x="367.05" y="36.20" width="105.50" height="109.60"/></clipPath>
<clipPath id="rk0"><rect x="367.75" y="36.20" width="105.00" height="109.60"/></clipPath>
<g clip-path="url(#rc0)" fill="none" stroke-linejoin="miter">
<polyline points="367.30,145.50 367.72,88.25 368.56,76.80 370.45,66.39 371.08,58.37 373.60,53.90 377.59,50.88 379.59,51.29 380.95,47.65 383.26,44.42 388.30,45.05 395.44,45.15 397.01,42.45 404.05,41.93 411.09,41.40 472.30,41.40" stroke="#ff1493" stroke-width="1.15" stroke-linecap="round" stroke-dasharray="0.01 2.45"/>
<polyline points="367.30,145.50 367.62,93.45 368.04,75.03 370.35,66.70 371.50,61.39 372.55,54.21 376.44,50.46 382.53,46.30 387.88,45.15 392.50,43.28 397.33,42.13 404.57,41.82 411.09,41.40 472.30,41.40" stroke="#000080" stroke-width="1.15" stroke-linecap="round" stroke-dasharray="0.01 2.45" stroke-dashoffset="1.2"/>
<g clip-path="url(#rk0)">
<polyline points="367.30,105.42 370.35,105.42 370.35,86.17 372.55,86.17 372.55,80.96" stroke="#5799c7" stroke-width="0.80" stroke-opacity="1.00"/>
<polyline points="382.53,51.19 382.53,46.30 390.50,46.30 390.50,41.40" stroke="#5799c7" stroke-width="0.80" stroke-opacity="1.00"/>
<polyline points="367.30,145.50 367.30,85.85 369.82,85.85 369.82,80.96 372.34,80.96 372.34,61.08 375.28,61.08 375.28,56.08 382.53,56.08 382.53,51.19 387.88,51.19 387.88,46.30 411.09,46.30 411.09,41.40 472.30,41.40" stroke="#ff9f4a" stroke-width="0.80" stroke-opacity="1.00"/>
<polyline points="367.30,145.50 367.30,41.40 472.30,41.40" stroke="#61b861" stroke-width="0.80" stroke-opacity="1.00"/>
</g>
<line x1="367.30" y1="145.50" x2="472.30" y2="41.40" stroke="#000" stroke-width="0.8" stroke-dasharray="2.2 1.0"/>
</g>
<path d="M367.30 36.20H472.30" fill="none" stroke="#b4b4b4" stroke-width="0.7"/>
<path d="M472.30 36.20V145.50" fill="none" stroke="#b4b4b4" stroke-width="0.7"/>
<path d="M367.30 145.50H472.30" fill="none" stroke="#bdbdbd" stroke-width="0.7"/>
<path d="M367.30 36.20V145.50" fill="none" stroke="#8e8e8e" stroke-width="0.75"/>
<line x1="367.30" y1="145.50" x2="367.30" y2="88.25" stroke="#ff3b8a" stroke-opacity="0.75" stroke-width="0.8" stroke-dasharray="1.1 1.35"/>
<rect x="391.70" y="113.10" width="79.30" height="30.60" rx="0.8" fill="#fff" fill-opacity="0.8" stroke="#d4d4d4" stroke-width="0.4"/>
<line x1="394.00" y1="116.60" x2="400.60" y2="116.60" stroke="#ff1493" stroke-width="1.15" stroke-linecap="round" stroke-dasharray="0.01 2.45"/>
<text x="404.00" y="117.80" font-size="3.29" fill="#222">micro AUC: 0.975 (95%CI 0.954-0.992)</text>
<line x1="394.00" y1="122.50" x2="400.60" y2="122.50" stroke="#000080" stroke-width="1.15" stroke-linecap="round" stroke-dasharray="0.01 2.45"/>
<text x="404.00" y="123.70" font-size="3.29" fill="#222">macro AUC: 0.976 (95%CI 0.937-1.000)</text>
<line x1="393.40" y1="128.40" x2="400.50" y2="128.40" stroke="#5799c7" stroke-width="0.80" stroke-opacity="1.00"/>
<text x="404.00" y="129.60" font-size="3.29" fill="#222">class 0 AUC: 0.956 (95%CI 0.911-1.000)</text>
<line x1="393.40" y1="134.30" x2="400.50" y2="134.30" stroke="#ff9f4a" stroke-width="0.80" stroke-opacity="1.00"/>
<text x="404.00" y="135.50" font-size="3.29" fill="#222">class 1 AUC: 0.950 (95%CI 0.899-1.000)</text>
<line x1="393.40" y1="140.20" x2="400.50" y2="140.20" stroke="#61b861" stroke-width="0.80" stroke-opacity="1.00"/>
<text x="404.00" y="141.40" font-size="3.29" fill="#222">class 2 AUC: 1.000 (95%CI 1.000-1.000)</text>
</g>
<g font-family="'DejaVu Sans', 'Liberation Sans', sans-serif">
<line x1="679.70" y1="144.50" x2="679.70" y2="145.50" stroke="#666" stroke-width="0.35"/>
<line x1="678.70" y1="144.50" x2="679.70" y2="144.50" stroke="#666" stroke-width="0.35"/>
<text x="679.70" y="149.00" font-size="3.25" fill="#222" text-anchor="middle">0.0</text>
<text x="678.10" y="145.70" font-size="3.25" fill="#222" text-anchor="end">0.0</text>
<line x1="700.88" y1="144.50" x2="700.88" y2="145.50" stroke="#666" stroke-width="0.35"/>
<line x1="678.70" y1="123.64" x2="679.70" y2="123.64" stroke="#666" stroke-width="0.35"/>
<text x="700.88" y="149.00" font-size="3.25" fill="#222" text-anchor="middle">0.2</text>
<text x="678.10" y="124.84" font-size="3.25" fill="#222" text-anchor="end">0.2</text>
<line x1="722.06" y1="144.50" x2="722.06" y2="145.50" stroke="#666" stroke-width="0.35"/>
<line x1="678.70" y1="102.79" x2="679.70" y2="102.79" stroke="#666" stroke-width="0.35"/>
<text x="722.06" y="149.00" font-size="3.25" fill="#222" text-anchor="middle">0.4</text>
<text x="678.10" y="103.99" font-size="3.25" fill="#222" text-anchor="end">0.4</text>
<line x1="743.24" y1="144.50" x2="743.24" y2="145.50" stroke="#666" stroke-width="0.35"/>
<line x1="678.70" y1="81.93" x2="679.70" y2="81.93" stroke="#666" stroke-width="0.35"/>
<text x="743.24" y="149.00" font-size="3.25" fill="#222" text-anchor="middle">0.6</text>
<text x="678.10" y="83.13" font-size="3.25" fill="#222" text-anchor="end">0.6</text>
<line x1="764.42" y1="144.50" x2="764.42" y2="145.50" stroke="#666" stroke-width="0.35"/>
<line x1="678.70" y1="61.07" x2="679.70" y2="61.07" stroke="#666" stroke-width="0.35"/>
<text x="764.42" y="149.00" font-size="3.25" fill="#222" text-anchor="middle">0.8</text>
<text x="678.10" y="62.27" font-size="3.25" fill="#222" text-anchor="end">0.8</text>
<line x1="785.60" y1="144.50" x2="785.60" y2="145.50" stroke="#666" stroke-width="0.35"/>
<line x1="678.70" y1="40.21" x2="679.70" y2="40.21" stroke="#666" stroke-width="0.35"/>
<text x="785.60" y="149.00" font-size="3.25" fill="#222" text-anchor="middle">1.0</text>
<text x="678.10" y="41.41" font-size="3.25" fill="#222" text-anchor="end">1.0</text>
<text x="732.65" y="154.10" font-size="3.25" fill="#222" text-anchor="middle">1 - Specificity</text>
<text transform="translate(671.70 89.75) rotate(-90)" font-size="3.25" fill="#222" text-anchor="middle">Sensitivity</text>
<clipPath id="rc1"><rect x="679.45" y="35.00" width="106.40" height="109.80"/></clipPath>
<clipPath id="rk1"><rect x="680.15" y="35.00" width="105.90" height="109.80"/></clipPath>
<g clip-path="url(#rc1)" fill="none" stroke-linejoin="miter">
<polyline points="679.70,144.50 680.34,113.21 680.86,100.70 682.56,89.23 685.42,87.98 687.64,77.76 688.81,66.39 691.14,59.51 694.53,54.40 702.57,52.21 710.41,51.06 719.62,44.80 733.29,43.66 743.56,43.66 744.72,40.42 753.83,40.21 785.60,40.21" stroke="#ff1493" stroke-width="1.15" stroke-linecap="round" stroke-dasharray="0.01 2.45"/>
<polyline points="679.70,144.50 680.23,113.21 682.03,89.23 684.78,81.20 687.64,69.83 691.14,65.24 692.83,62.95 696.86,54.40 705.96,51.58 711.47,49.29 717.93,45.95 726.51,43.03 732.23,41.36 744.72,40.42 753.83,40.21 785.60,40.21" stroke="#000080" stroke-width="1.15" stroke-linecap="round" stroke-dasharray="0.01 2.45" stroke-dashoffset="1.2"/>
<g clip-path="url(#rk1)">
<polyline points="679.70,144.50 679.70,113.21 681.82,113.21 681.82,90.27 695.06,90.27 695.06,62.43 697.60,62.43 697.60,49.29 710.52,49.29 710.52,44.49 718.46,44.49 718.46,40.21 785.60,40.21" stroke="#5799c7" stroke-width="0.80" stroke-opacity="1.00"/>
<polyline points="679.70,144.50 679.70,80.05 682.24,80.05 682.24,75.25 686.58,75.25 686.58,59.51 696.64,59.51 696.64,55.02 713.91,55.02 713.91,50.43 723.65,50.43 723.65,45.32 753.51,45.32 753.51,40.21 785.60,40.21" stroke="#ff9f4a" stroke-width="0.80" stroke-opacity="1.00"/>
<polyline points="679.70,144.50 679.70,87.46 684.25,87.46 684.25,76.09 686.58,76.09 686.58,61.07 689.65,61.07 689.65,55.54 705.96,55.54 705.96,50.43 717.93,50.43 717.93,45.32 732.54,45.32 732.54,40.21 785.60,40.21" stroke="#61b861" stroke-width="0.80" stroke-opacity="1.00"/>
</g>
<line x1="679.70" y1="144.50" x2="785.60" y2="40.21" stroke="#000" stroke-width="0.8" stroke-dasharray="2.2 1.0"/>
</g>
<path d="M679.70 35.00H785.60" fill="none" stroke="#f2f2f2" stroke-width="0.7"/>
<path d="M785.60 35.00V144.50" fill="none" stroke="#dadada" stroke-width="0.7"/>
<path d="M679.70 144.50H785.60" fill="none" stroke="#bdbdbd" stroke-width="0.7"/>
<path d="M679.70 35.00V144.50" fill="none" stroke="#8e8e8e" stroke-width="0.75"/>
<line x1="679.70" y1="144.50" x2="679.70" y2="113.21" stroke="#ff3b8a" stroke-opacity="0.75" stroke-width="0.8" stroke-dasharray="1.1 1.35"/>
<rect x="703.90" y="111.60" width="79.30" height="30.60" rx="0.8" fill="#fff" fill-opacity="0.8" stroke="#d4d4d4" stroke-width="0.4"/>
<line x1="706.20" y1="115.10" x2="712.80" y2="115.10" stroke="#ff1493" stroke-width="1.15" stroke-linecap="round" stroke-dasharray="0.01 2.45"/>
<text x="716.20" y="116.30" font-size="3.29" fill="#222">micro AUC: 0.915 (95%CI 0.874-0.956)</text>
<line x1="706.20" y1="121.00" x2="712.80" y2="121.00" stroke="#000080" stroke-width="1.15" stroke-linecap="round" stroke-dasharray="0.01 2.45"/>
<text x="716.20" y="122.20" font-size="3.29" fill="#222">macro AUC: 0.923 (95%CI 0.841-0.988)</text>
<line x1="705.60" y1="126.90" x2="712.70" y2="126.90" stroke="#5799c7" stroke-width="0.80" stroke-opacity="1.00"/>
<text x="716.20" y="128.10" font-size="3.29" fill="#222">class 0 AUC: 0.906 (95%CI 0.835-0.975)</text>
<line x1="705.60" y1="132.80" x2="712.70" y2="132.80" stroke="#ff9f4a" stroke-width="0.80" stroke-opacity="1.00"/>
<text x="716.20" y="134.00" font-size="3.29" fill="#222">class 1 AUC: 0.913 (95%CI 0.838-0.995)</text>
<line x1="705.60" y1="138.70" x2="712.70" y2="138.70" stroke="#61b861" stroke-width="0.80" stroke-opacity="1.00"/>
<text x="716.20" y="139.90" font-size="3.29" fill="#222">class 2 AUC: 0.925 (95%CI 0.856-0.994)</text>
</g>
<g font-family="'DejaVu Sans', 'Liberation Sans', sans-serif">
<line x1="367.30" y1="282.20" x2="367.30" y2="283.20" stroke="#666" stroke-width="0.35"/>
<line x1="366.30" y1="282.20" x2="367.30" y2="282.20" stroke="#666" stroke-width="0.35"/>
<text x="367.30" y="286.70" font-size="3.25" fill="#222" text-anchor="middle">0.0</text>
<text x="365.70" y="283.40" font-size="3.25" fill="#222" text-anchor="end">0.0</text>
<line x1="388.48" y1="282.20" x2="388.48" y2="283.20" stroke="#666" stroke-width="0.35"/>
<line x1="366.30" y1="261.29" x2="367.30" y2="261.29" stroke="#666" stroke-width="0.35"/>
<text x="388.48" y="286.70" font-size="3.25" fill="#222" text-anchor="middle">0.2</text>
<text x="365.70" y="262.49" font-size="3.25" fill="#222" text-anchor="end">0.2</text>
<line x1="409.66" y1="282.20" x2="409.66" y2="283.20" stroke="#666" stroke-width="0.35"/>
<line x1="366.30" y1="240.37" x2="367.30" y2="240.37" stroke="#666" stroke-width="0.35"/>
<text x="409.66" y="286.70" font-size="3.25" fill="#222" text-anchor="middle">0.4</text>
<text x="365.70" y="241.57" font-size="3.25" fill="#222" text-anchor="end">0.4</text>
<line x1="430.84" y1="282.20" x2="430.84" y2="283.20" stroke="#666" stroke-width="0.35"/>
<line x1="366.30" y1="219.46" x2="367.30" y2="219.46" stroke="#666" stroke-width="0.35"/>
<text x="430.84" y="286.70" font-size="3.25" fill="#222" text-anchor="middle">0.6</text>
<text x="365.70" y="220.66" font-size="3.25" fill="#222" text-anchor="end">0.6</text>
<line x1="452.02" y1="282.20" x2="452.02" y2="283.20" stroke="#666" stroke-width="0.35"/>
<line x1="366.30" y1="198.54" x2="367.30" y2="198.54" stroke="#666" stroke-width="0.35"/>
<text x="452.02" y="286.70" font-size="3.25" fill="#222" text-anchor="middle">0.8</text>
<text x="365.70" y="199.74" font-size="3.25" fill="#222" text-anchor="end">0.8</text>
<line x1="473.20" y1="282.20" x2="473.20" y2="283.20" stroke="#666" stroke-width="0.35"/>
<line x1="366.30" y1="177.63" x2="367.30" y2="177.63" stroke="#666" stroke-width="0.35"/>
<text x="473.20" y="286.70" font-size="3.25" fill="#222" text-anchor="middle">1.0</text>
<text x="365.70" y="178.83" font-size="3.25" fill="#222" text-anchor="end">1.0</text>
<text x="420.25" y="291.80" font-size="3.25" fill="#222" text-anchor="middle">1 - Specificity</text>
<text transform="translate(359.30 227.30) rotate(-90)" font-size="3.25" fill="#222" text-anchor="middle">Sensitivity</text>
<clipPath id="rc2"><rect x="367.05" y="172.40" width="106.40" height="110.10"/></clipPath>
<clipPath id="rk2"><rect x="367.75" y="172.40" width="105.90" height="110.10"/></clipPath>
<g clip-path="url(#rc2)" fill="none" stroke-linejoin="miter">
<polyline points="367.30,282.20 367.45,209.52 369.21,207.33 369.63,195.93 371.54,192.79 373.44,189.03 373.65,186.52 375.77,180.77 380.22,180.77 381.81,178.88 388.48,178.47 395.47,177.63 473.20,177.63" stroke="#ff1493" stroke-width="1.15" stroke-linecap="round" stroke-dasharray="0.01 2.45"/>
<polyline points="367.30,282.20 367.51,219.46 367.72,201.16 368.78,198.54 370.37,190.60 371.54,185.58 372.60,182.96 376.09,180.66 378.74,179.93 381.38,179.20 386.36,178.36 391.34,178.05 395.47,177.63 473.20,177.63" stroke="#000080" stroke-width="1.15" stroke-linecap="round" stroke-dasharray="0.01 2.45" stroke-dashoffset="1.2"/>
<g clip-path="url(#rk2)">
<polyline points="367.30,282.20 367.30,227.82 369.31,227.82 369.31,212.66 372.60,212.66 372.60,182.86 374.92,182.86 374.92,177.63 473.20,177.63" stroke="#5799c7" stroke-width="0.80" stroke-opacity="1.00"/>
<polyline points="367.30,282.20 367.30,207.95 369.31,207.95 369.31,187.56 380.43,187.56 380.43,182.86 395.47,182.86 395.47,177.63 473.20,177.63" stroke="#ff9f4a" stroke-width="0.80" stroke-opacity="1.00"/>
<polyline points="367.30,282.20 367.30,177.63 473.20,177.63" stroke="#61b861" stroke-width="0.80" stroke-opacity="1.00"/>
</g>
<line x1="367.30" y1="282.20" x2="473.20" y2="177.63" stroke="#000" stroke-width="0.8" stroke-dasharray="2.2 1.0"/>
</g>
<path d="M367.30 172.40H473.20" fill="none" stroke="#b4b4b4" stroke-width="0.7"/>
<path d="M473.20 172.40V282.20" fill="none" stroke="#b4b4b4" stroke-width="0.7"/>
<path d="M367.30 282.20H473.20" fill="none" stroke="#bdbdbd" stroke-width="0.7"/>
<path d="M367.30 172.40V282.20" fill="none" stroke="#8e8e8e" stroke-width="0.75"/>
<line x1="367.30" y1="282.20" x2="367.30" y2="209.52" stroke="#ff3b8a" stroke-opacity="0.75" stroke-width="0.8" stroke-dasharray="1.1 1.35"/>
<rect x="391.60" y="250.10" width="79.30" height="30.60" rx="0.8" fill="#fff" fill-opacity="0.8" stroke="#d4d4d4" stroke-width="0.4"/>
<line x1="393.90" y1="253.60" x2="400.50" y2="253.60" stroke="#ff1493" stroke-width="1.15" stroke-linecap="round" stroke-dasharray="0.01 2.45"/>
<text x="403.90" y="254.80" font-size="3.29" fill="#222">micro AUC: 0.986 (95%CI 0.975-0.998)</text>
<line x1="393.90" y1="259.50" x2="400.50" y2="259.50" stroke="#000080" stroke-width="1.15" stroke-linecap="round" stroke-dasharray="0.01 2.45"/>
<text x="403.90" y="260.70" font-size="3.29" fill="#222">macro AUC: 0.990 (95%CI 0.965-1.000)</text>
<line x1="393.30" y1="265.40" x2="400.40" y2="265.40" stroke="#5799c7" stroke-width="0.80" stroke-opacity="1.00"/>
<text x="403.90" y="266.60" font-size="3.29" fill="#222">class 0 AUC: 0.979 (95%CI 0.959-1.000)</text>
<line x1="393.30" y1="271.30" x2="400.40" y2="271.30" stroke="#ff9f4a" stroke-width="0.80" stroke-opacity="1.00"/>
<text x="403.90" y="272.50" font-size="3.29" fill="#222">class 1 AUC: 0.977 (95%CI 0.946-1.000)</text>
<line x1="393.30" y1="277.20" x2="400.40" y2="277.20" stroke="#61b861" stroke-width="0.80" stroke-opacity="1.00"/>
<text x="403.90" y="278.40" font-size="3.29" fill="#222">class 2 AUC: 1.000 (95%CI 1.000-1.000)</text>
</g>
<g font-family="'DejaVu Sans', 'Liberation Sans', sans-serif">
<line x1="678.20" y1="281.90" x2="678.20" y2="282.90" stroke="#666" stroke-width="0.35"/>
<line x1="677.20" y1="281.90" x2="678.20" y2="281.90" stroke="#666" stroke-width="0.35"/>
<text x="678.20" y="286.40" font-size="3.25" fill="#222" text-anchor="middle">0.0</text>
<text x="676.60" y="283.10" font-size="3.25" fill="#222" text-anchor="end">0.0</text>
<line x1="699.50" y1="281.90" x2="699.50" y2="282.90" stroke="#666" stroke-width="0.35"/>
<line x1="677.20" y1="261.06" x2="678.20" y2="261.06" stroke="#666" stroke-width="0.35"/>
<text x="699.50" y="286.40" font-size="3.25" fill="#222" text-anchor="middle">0.2</text>
<text x="676.60" y="262.26" font-size="3.25" fill="#222" text-anchor="end">0.2</text>
<line x1="720.80" y1="281.90" x2="720.80" y2="282.90" stroke="#666" stroke-width="0.35"/>
<line x1="677.20" y1="240.22" x2="678.20" y2="240.22" stroke="#666" stroke-width="0.35"/>
<text x="720.80" y="286.40" font-size="3.25" fill="#222" text-anchor="middle">0.4</text>
<text x="676.60" y="241.42" font-size="3.25" fill="#222" text-anchor="end">0.4</text>
<line x1="742.10" y1="281.90" x2="742.10" y2="282.90" stroke="#666" stroke-width="0.35"/>
<line x1="677.20" y1="219.39" x2="678.20" y2="219.39" stroke="#666" stroke-width="0.35"/>
<text x="742.10" y="286.40" font-size="3.25" fill="#222" text-anchor="middle">0.6</text>
<text x="676.60" y="220.59" font-size="3.25" fill="#222" text-anchor="end">0.6</text>
<line x1="763.40" y1="281.90" x2="763.40" y2="282.90" stroke="#666" stroke-width="0.35"/>
<line x1="677.20" y1="198.55" x2="678.20" y2="198.55" stroke="#666" stroke-width="0.35"/>
<text x="763.40" y="286.40" font-size="3.25" fill="#222" text-anchor="middle">0.8</text>
<text x="676.60" y="199.75" font-size="3.25" fill="#222" text-anchor="end">0.8</text>
<line x1="784.70" y1="281.90" x2="784.70" y2="282.90" stroke="#666" stroke-width="0.35"/>
<line x1="677.20" y1="177.71" x2="678.20" y2="177.71" stroke="#666" stroke-width="0.35"/>
<text x="784.70" y="286.40" font-size="3.25" fill="#222" text-anchor="middle">1.0</text>
<text x="676.60" y="178.91" font-size="3.25" fill="#222" text-anchor="end">1.0</text>
<text x="731.45" y="291.50" font-size="3.25" fill="#222" text-anchor="middle">1 - Specificity</text>
<text transform="translate(670.20 227.20) rotate(-90)" font-size="3.25" fill="#222" text-anchor="middle">Sensitivity</text>
<clipPath id="rc3"><rect x="677.95" y="172.50" width="107.00" height="109.70"/></clipPath>
<clipPath id="rk3"><rect x="678.65" y="172.50" width="106.50" height="109.70"/></clipPath>
<g clip-path="url(#rc3)" fill="none" stroke-linejoin="miter">
<polyline points="678.20,281.90 678.52,229.80 678.73,214.49 680.65,211.47 680.65,197.82 681.82,194.80 682.99,188.13 684.48,184.17 688.21,182.61 693.54,182.61 695.13,179.58 701.63,178.75 705.78,177.71 784.70,177.71" stroke="#ff1493" stroke-width="1.15" stroke-linecap="round" stroke-dasharray="0.01 2.45"/>
<polyline points="678.20,281.90 678.41,219.39 678.52,204.28 679.48,200.84 680.65,191.78 681.82,187.92 683.31,185.32 685.23,181.88 687.47,180.73 692.47,180.31 697.37,179.27 702.38,178.44 705.78,177.71 784.70,177.71" stroke="#000080" stroke-width="1.15" stroke-linecap="round" stroke-dasharray="0.01 2.45" stroke-dashoffset="1.2"/>
<g clip-path="url(#rk3)">
<polyline points="678.20,281.90 678.20,193.34 680.44,193.34 680.44,182.29 682.89,182.29 682.89,177.71 784.70,177.71" stroke="#5799c7" stroke-width="0.80" stroke-opacity="1.00"/>
<polyline points="678.20,281.90 678.20,232.10 680.76,232.10 680.76,197.40 685.44,197.40 685.44,187.19 697.80,187.19 697.80,182.50 705.78,182.50 705.78,177.71 784.70,177.71" stroke="#ff9f4a" stroke-width="0.80" stroke-opacity="1.00"/>
<polyline points="678.20,281.90 678.20,193.23 682.89,193.23 682.89,177.71 784.70,177.71" stroke="#61b861" stroke-width="0.80" stroke-opacity="1.00"/>
</g>
<line x1="678.20" y1="281.90" x2="784.70" y2="177.71" stroke="#000" stroke-width="0.8" stroke-dasharray="2.2 1.0"/>
</g>
<path d="M678.20 172.50H784.70" fill="none" stroke="#b4b4b4" stroke-width="0.7"/>
<path d="M784.70 172.50V281.90" fill="none" stroke="#b4b4b4" stroke-width="0.7"/>
<path d="M678.20 281.90H784.70" fill="none" stroke="#bdbdbd" stroke-width="0.7"/>
<path d="M678.20 172.50V281.90" fill="none" stroke="#8e8e8e" stroke-width="0.75"/>
<line x1="678.20" y1="281.90" x2="678.20" y2="214.49" stroke="#ff3b8a" stroke-opacity="0.75" stroke-width="0.8" stroke-dasharray="1.1 1.35"/>
<rect x="702.80" y="249.50" width="79.30" height="30.60" rx="0.8" fill="#fff" fill-opacity="0.8" stroke="#d4d4d4" stroke-width="0.4"/>
<line x1="705.10" y1="253.00" x2="711.70" y2="253.00" stroke="#ff1493" stroke-width="1.15" stroke-linecap="round" stroke-dasharray="0.01 2.45"/>
<text x="715.10" y="254.20" font-size="3.29" fill="#222">micro AUC: 0.982 (95%CI 0.968-0.996)</text>
<line x1="705.10" y1="258.90" x2="711.70" y2="258.90" stroke="#000080" stroke-width="1.15" stroke-linecap="round" stroke-dasharray="0.01 2.45"/>
<text x="715.10" y="260.10" font-size="3.29" fill="#222">macro AUC: 0.988 (95%CI 0.964-1.000)</text>
<line x1="704.50" y1="264.80" x2="711.60" y2="264.80" stroke="#5799c7" stroke-width="0.80" stroke-opacity="1.00"/>
<text x="715.10" y="266.00" font-size="3.29" fill="#222">class 0 AUC: 0.995 (95%CI 0.985-1.000)</text>
<line x1="704.50" y1="270.70" x2="711.60" y2="270.70" stroke="#ff9f4a" stroke-width="0.80" stroke-opacity="1.00"/>
<text x="715.10" y="271.90" font-size="3.29" fill="#222">class 1 AUC: 0.969 (95%CI 0.929-1.000)</text>
<line x1="704.50" y1="276.60" x2="711.60" y2="276.60" stroke="#61b861" stroke-width="0.80" stroke-opacity="1.00"/>
<text x="715.10" y="277.80" font-size="3.29" fill="#222">class 2 AUC: 0.990 (95%CI 0.981-1.000)</text>
</g>
<g font-family="'DejaVu Sans', 'Liberation Sans', sans-serif">
<line x1="366.40" y1="441.20" x2="366.40" y2="442.20" stroke="#666" stroke-width="0.35"/>
<line x1="365.40" y1="441.20" x2="366.40" y2="441.20" stroke="#666" stroke-width="0.35"/>
<text x="366.40" y="445.70" font-size="3.25" fill="#222" text-anchor="middle">0.0</text>
<text x="364.80" y="442.40" font-size="3.25" fill="#222" text-anchor="end">0.0</text>
<line x1="387.82" y1="441.20" x2="387.82" y2="442.20" stroke="#666" stroke-width="0.35"/>
<line x1="365.40" y1="420.44" x2="366.40" y2="420.44" stroke="#666" stroke-width="0.35"/>
<text x="387.82" y="445.70" font-size="3.25" fill="#222" text-anchor="middle">0.2</text>
<text x="364.80" y="421.64" font-size="3.25" fill="#222" text-anchor="end">0.2</text>
<line x1="409.24" y1="441.20" x2="409.24" y2="442.20" stroke="#666" stroke-width="0.35"/>
<line x1="365.40" y1="399.68" x2="366.40" y2="399.68" stroke="#666" stroke-width="0.35"/>
<text x="409.24" y="445.70" font-size="3.25" fill="#222" text-anchor="middle">0.4</text>
<text x="364.80" y="400.88" font-size="3.25" fill="#222" text-anchor="end">0.4</text>
<line x1="430.66" y1="441.20" x2="430.66" y2="442.20" stroke="#666" stroke-width="0.35"/>
<line x1="365.40" y1="378.91" x2="366.40" y2="378.91" stroke="#666" stroke-width="0.35"/>
<text x="430.66" y="445.70" font-size="3.25" fill="#222" text-anchor="middle">0.6</text>
<text x="364.80" y="380.11" font-size="3.25" fill="#222" text-anchor="end">0.6</text>
<line x1="452.08" y1="441.20" x2="452.08" y2="442.20" stroke="#666" stroke-width="0.35"/>
<line x1="365.40" y1="358.15" x2="366.40" y2="358.15" stroke="#666" stroke-width="0.35"/>
<text x="452.08" y="445.70" font-size="3.25" fill="#222" text-anchor="middle">0.8</text>
<text x="364.80" y="359.35" font-size="3.25" fill="#222" text-anchor="end">0.8</text>
<line x1="473.50" y1="441.20" x2="473.50" y2="442.20" stroke="#666" stroke-width="0.35"/>
<line x1="365.40" y1="337.39" x2="366.40" y2="337.39" stroke="#666" stroke-width="0.35"/>
<text x="473.50" y="445.70" font-size="3.25" fill="#222" text-anchor="middle">1.0</text>
<text x="364.80" y="338.59" font-size="3.25" fill="#222" text-anchor="end">1.0</text>
<text x="419.95" y="450.80" font-size="3.25" fill="#222" text-anchor="middle">1 - Specificity</text>
<text transform="translate(358.40 386.70) rotate(-90)" font-size="3.25" fill="#222" text-anchor="middle">Sensitivity</text>
<clipPath id="rc4"><rect x="366.15" y="332.20" width="107.60" height="109.30"/></clipPath>
<clipPath id="rk4"><rect x="366.85" y="332.20" width="107.10" height="109.30"/></clipPath>
<g clip-path="url(#rc4)" fill="none" stroke-linejoin="miter">
<polyline points="366.40,441.20 367.04,410.06 367.69,389.30 368.76,379.95 369.40,364.69 371.33,353.48 375.29,348.29 377.86,345.28 380.43,346.84 381.39,342.27 394.67,342.27 396.71,339.26 415.99,338.74 417.81,337.70 432.27,337.39 473.50,337.39" stroke="#ff1493" stroke-width="1.15" stroke-linecap="round" stroke-dasharray="0.01 2.45"/>
<polyline points="366.40,441.20 366.83,399.68 367.26,382.03 368.22,374.76 369.72,367.70 371.33,359.61 373.79,352.44 375.82,347.36 379.89,343.31 386.53,341.75 395.64,340.19 405.81,339.26 416.95,338.22 432.27,337.39 473.50,337.39" stroke="#000080" stroke-width="1.15" stroke-linecap="round" stroke-dasharray="0.01 2.45" stroke-dashoffset="1.2"/>
<g clip-path="url(#rk4)">
<polyline points="366.40,441.20 366.40,418.36 369.08,418.36 369.08,384.10 371.97,384.10 371.97,360.64 374.54,360.64 374.54,341.75 380.64,341.75 380.64,337.39 473.50,337.39" stroke="#5799c7" stroke-width="0.80" stroke-opacity="1.00"/>
<polyline points="366.40,441.20 366.40,368.53 374.54,368.53 374.54,363.65 379.89,363.65 379.89,352.65 405.81,352.65 405.81,342.27 431.95,342.27 431.95,337.39 473.50,337.39" stroke="#ff9f4a" stroke-width="0.80" stroke-opacity="1.00"/>
<polyline points="366.40,441.20 366.40,359.61 368.76,359.61 368.76,337.39 473.50,337.39" stroke="#61b861" stroke-width="0.80" stroke-opacity="1.00"/>
</g>
<line x1="366.40" y1="441.20" x2="473.50" y2="337.39" stroke="#000" stroke-width="0.8" stroke-dasharray="2.2 1.0"/>
</g>
<path d="M366.40 332.20H473.50" fill="none" stroke="#b4b4b4" stroke-width="0.7"/>
<path d="M473.50 332.20V441.20" fill="none" stroke="#b4b4b4" stroke-width="0.7"/>
<path d="M366.40 441.20H473.50" fill="none" stroke="#bdbdbd" stroke-width="0.7"/>
<path d="M366.40 332.20V441.20" fill="none" stroke="#8e8e8e" stroke-width="0.75"/>
<line x1="366.40" y1="441.20" x2="366.40" y2="410.06" stroke="#ff3b8a" stroke-opacity="0.75" stroke-width="0.8" stroke-dasharray="1.1 1.35"/>
<rect x="391.40" y="409.10" width="79.30" height="30.60" rx="0.8" fill="#fff" fill-opacity="0.8" stroke="#d4d4d4" stroke-width="0.4"/>
<line x1="393.70" y1="412.60" x2="400.30" y2="412.60" stroke="#ff1493" stroke-width="1.15" stroke-linecap="round" stroke-dasharray="0.01 2.45"/>
<text x="403.70" y="413.80" font-size="3.29" fill="#222">micro AUC: 0.961 (95%CI 0.935-0.987)</text>
<line x1="393.70" y1="418.50" x2="400.30" y2="418.50" stroke="#000080" stroke-width="1.15" stroke-linecap="round" stroke-dasharray="0.01 2.45"/>
<text x="403.70" y="419.70" font-size="3.29" fill="#222">macro AUC: 0.966 (95%CI 0.912-0.999)</text>
<line x1="393.10" y1="424.40" x2="400.20" y2="424.40" stroke="#5799c7" stroke-width="0.80" stroke-opacity="1.00"/>
<text x="403.70" y="425.60" font-size="3.29" fill="#222">class 0 AUC: 0.960 (95%CI 0.913-1.000)</text>
<line x1="393.10" y1="430.30" x2="400.20" y2="430.30" stroke="#ff9f4a" stroke-width="0.80" stroke-opacity="1.00"/>
<text x="403.70" y="431.50" font-size="3.29" fill="#222">class 1 AUC: 0.917 (95%CI 0.838-0.996)</text>
<line x1="393.10" y1="436.20" x2="400.20" y2="436.20" stroke="#61b861" stroke-width="0.80" stroke-opacity="1.00"/>
<text x="403.70" y="437.40" font-size="3.29" fill="#222">class 2 AUC: 0.995 (95%CI 0.984-1.000)</text>
</g>
<g font-family="'DejaVu Sans', 'Liberation Sans', sans-serif">
<line x1="678.40" y1="445.10" x2="678.40" y2="446.10" stroke="#666" stroke-width="0.35"/>
<line x1="677.40" y1="445.10" x2="678.40" y2="445.10" stroke="#666" stroke-width="0.35"/>
<text x="678.40" y="449.60" font-size="3.25" fill="#222" text-anchor="middle">0.0</text>
<text x="676.80" y="446.30" font-size="3.25" fill="#222" text-anchor="end">0.0</text>
<line x1="699.84" y1="445.10" x2="699.84" y2="446.10" stroke="#666" stroke-width="0.35"/>
<line x1="677.40" y1="424.17" x2="678.40" y2="424.17" stroke="#666" stroke-width="0.35"/>
<text x="699.84" y="449.60" font-size="3.25" fill="#222" text-anchor="middle">0.2</text>
<text x="676.80" y="425.37" font-size="3.25" fill="#222" text-anchor="end">0.2</text>
<line x1="721.28" y1="445.10" x2="721.28" y2="446.10" stroke="#666" stroke-width="0.35"/>
<line x1="677.40" y1="403.23" x2="678.40" y2="403.23" stroke="#666" stroke-width="0.35"/>
<text x="721.28" y="449.60" font-size="3.25" fill="#222" text-anchor="middle">0.4</text>
<text x="676.80" y="404.43" font-size="3.25" fill="#222" text-anchor="end">0.4</text>
<line x1="742.72" y1="445.10" x2="742.72" y2="446.10" stroke="#666" stroke-width="0.35"/>
<line x1="677.40" y1="382.30" x2="678.40" y2="382.30" stroke="#666" stroke-width="0.35"/>
<text x="742.72" y="449.60" font-size="3.25" fill="#222" text-anchor="middle">0.6</text>
<text x="676.80" y="383.50" font-size="3.25" fill="#222" text-anchor="end">0.6</text>
<line x1="764.16" y1="445.10" x2="764.16" y2="446.10" stroke="#666" stroke-width="0.35"/>
<line x1="677.40" y1="361.37" x2="678.40" y2="361.37" stroke="#666" stroke-width="0.35"/>
<text x="764.16" y="449.60" font-size="3.25" fill="#222" text-anchor="middle">0.8</text>
<text x="676.80" y="362.57" font-size="3.25" fill="#222" text-anchor="end">0.8</text>
<line x1="785.60" y1="445.10" x2="785.60" y2="446.10" stroke="#666" stroke-width="0.35"/>
<line x1="677.40" y1="340.43" x2="678.40" y2="340.43" stroke="#666" stroke-width="0.35"/>
<text x="785.60" y="449.60" font-size="3.25" fill="#222" text-anchor="middle">1.0</text>
<text x="676.80" y="341.63" font-size="3.25" fill="#222" text-anchor="end">1.0</text>
<text x="732.00" y="454.70" font-size="3.25" fill="#222" text-anchor="middle">1 - Specificity</text>
<text transform="translate(670.40 390.15) rotate(-90)" font-size="3.25" fill="#222" text-anchor="middle">Sensitivity</text>
<clipPath id="rc5"><rect x="678.15" y="335.20" width="107.70" height="110.20"/></clipPath>
<clipPath id="rk5"><rect x="678.85" y="335.20" width="107.20" height="110.20"/></clipPath>
<g clip-path="url(#rc5)" fill="none" stroke-linejoin="miter">
<g clip-path="url(#rk5)">
<polyline points="678.40,445.10 678.40,381.46 681.29,381.46 681.29,367.65 683.76,367.65 683.76,363.56 686.87,363.56 686.87,349.33 691.91,349.33 691.91,344.83 696.73,344.83 696.73,340.43 785.60,340.43" stroke="#5799c7" stroke-width="0.80" stroke-opacity="1.00"/>
<polyline points="678.40,445.10 678.40,385.34 681.72,385.34 681.72,365.34 691.59,365.34 691.59,350.38 693.62,350.38 693.62,345.35 718.81,345.35 718.81,340.43 785.60,340.43" stroke="#ff9f4a" stroke-width="0.80" stroke-opacity="1.00"/>
<polyline points="678.40,445.10 678.40,350.90 685.80,350.90 685.80,345.35 688.69,345.35 688.69,340.43 785.60,340.43" stroke="#61b861" stroke-width="0.80" stroke-opacity="1.00"/>
</g>
<polyline points="678.40,445.10 679.26,392.77 679.69,377.80 680.76,372.67 680.76,363.56 685.26,359.80 688.37,351.42 690.94,347.34 695.44,347.34 696.52,343.78 699.84,343.05 707.34,341.27 714.85,340.64 718.81,340.43 785.60,340.43" stroke="#ff1493" stroke-width="1.15" stroke-linecap="round" stroke-dasharray="0.01 2.45"/>
<polyline points="678.40,445.10 678.83,392.77 679.69,369.74 681.29,362.52 685.26,358.96 687.30,352.37 690.41,348.39 692.44,345.35 696.52,342.21 704.66,341.48 714.85,340.64 718.81,340.43 785.60,340.43" stroke="#000080" stroke-width="1.15" stroke-linecap="round" stroke-dasharray="0.01 2.45" stroke-dashoffset="1.2"/>
<line x1="678.40" y1="445.10" x2="785.60" y2="340.43" stroke="#000" stroke-width="0.8" stroke-dasharray="2.2 1.0"/>
</g>
<path d="M678.40 335.20H785.60" fill="none" stroke="#b4b4b4" stroke-width="0.7"/>
<path d="M785.60 335.20V445.10" fill="none" stroke="#b4b4b4" stroke-width="0.7"/>
<path d="M678.40 445.10H785.60" fill="none" stroke="#bdbdbd" stroke-width="0.7"/>
<path d="M678.40 335.20V445.10" fill="none" stroke="#8e8e8e" stroke-width="0.75"/>
<line x1="678.40" y1="445.10" x2="678.40" y2="445.10" stroke="#ff3b8a" stroke-opacity="0.75" stroke-width="0.8" stroke-dasharray="1.1 1.35"/>
<rect x="703.70" y="412.50" width="79.30" height="30.60" rx="0.8" fill="#fff" fill-opacity="0.8" stroke="#d4d4d4" stroke-width="0.4"/>
<line x1="706.00" y1="416.00" x2="712.60" y2="416.00" stroke="#ff1493" stroke-width="1.15" stroke-linecap="round" stroke-dasharray="0.01 2.45"/>
<text x="716.00" y="417.20" font-size="3.29" fill="#222">micro AUC: 0.974 (95%CI 0.957-0.991)</text>
<line x1="706.00" y1="421.90" x2="712.60" y2="421.90" stroke="#000080" stroke-width="1.15" stroke-linecap="round" stroke-dasharray="0.01 2.45"/>
<text x="716.00" y="423.10" font-size="3.29" fill="#222">macro AUC: 0.977 (95%CI 0.943-1.000)</text>
<line x1="705.40" y1="427.80" x2="712.50" y2="427.80" stroke="#5799c7" stroke-width="0.80" stroke-opacity="1.00"/>
<text x="716.00" y="429.00" font-size="3.29" fill="#222">class 0 AUC: 0.972 (95%CI 0.942-1.000)</text>
<line x1="705.40" y1="433.70" x2="712.50" y2="433.70" stroke="#ff9f4a" stroke-width="0.80" stroke-opacity="1.00"/>
<text x="716.00" y="434.90" font-size="3.29" fill="#222">class 1 AUC: 0.955 (95%CI 0.908-1.000)</text>
<line x1="705.40" y1="439.60" x2="712.50" y2="439.60" stroke="#61b861" stroke-width="0.80" stroke-opacity="1.00"/>
<text x="716.00" y="440.80" font-size="3.29" fill="#222">class 2 AUC: 0.990 (95%CI 0.979-1.000)</text>
</g>
<g font-family="'DejaVu Sans', 'Liberation Sans', sans-serif">
<line x1="366.40" y1="600.50" x2="366.40" y2="601.50" stroke="#666" stroke-width="0.35"/>
<line x1="365.40" y1="600.50" x2="366.40" y2="600.50" stroke="#666" stroke-width="0.35"/>
<text x="366.40" y="605.00" font-size="3.25" fill="#222" text-anchor="middle">0.0</text>
<text x="364.80" y="601.70" font-size="3.25" fill="#222" text-anchor="end">0.0</text>
<line x1="387.82" y1="600.50" x2="387.82" y2="601.50" stroke="#666" stroke-width="0.35"/>
<line x1="365.40" y1="579.51" x2="366.40" y2="579.51" stroke="#666" stroke-width="0.35"/>
<text x="387.82" y="605.00" font-size="3.25" fill="#222" text-anchor="middle">0.2</text>
<text x="364.80" y="580.71" font-size="3.25" fill="#222" text-anchor="end">0.2</text>
<line x1="409.24" y1="600.50" x2="409.24" y2="601.50" stroke="#666" stroke-width="0.35"/>
<line x1="365.40" y1="558.52" x2="366.40" y2="558.52" stroke="#666" stroke-width="0.35"/>
<text x="409.24" y="605.00" font-size="3.25" fill="#222" text-anchor="middle">0.4</text>
<text x="364.80" y="559.72" font-size="3.25" fill="#222" text-anchor="end">0.4</text>
<line x1="430.66" y1="600.50" x2="430.66" y2="601.50" stroke="#666" stroke-width="0.35"/>
<line x1="365.40" y1="537.53" x2="366.40" y2="537.53" stroke="#666" stroke-width="0.35"/>
<text x="430.66" y="605.00" font-size="3.25" fill="#222" text-anchor="middle">0.6</text>
<text x="364.80" y="538.73" font-size="3.25" fill="#222" text-anchor="end">0.6</text>
<line x1="452.08" y1="600.50" x2="452.08" y2="601.50" stroke="#666" stroke-width="0.35"/>
<line x1="365.40" y1="516.54" x2="366.40" y2="516.54" stroke="#666" stroke-width="0.35"/>
<text x="452.08" y="605.00" font-size="3.25" fill="#222" text-anchor="middle">0.8</text>
<text x="364.80" y="517.74" font-size="3.25" fill="#222" text-anchor="end">0.8</text>
<line x1="473.50" y1="600.50" x2="473.50" y2="601.50" stroke="#666" stroke-width="0.35"/>
<line x1="365.40" y1="495.55" x2="366.40" y2="495.55" stroke="#666" stroke-width="0.35"/>
<text x="473.50" y="605.00" font-size="3.25" fill="#222" text-anchor="middle">1.0</text>
<text x="364.80" y="496.75" font-size="3.25" fill="#222" text-anchor="end">1.0</text>
<text x="419.95" y="610.10" font-size="3.25" fill="#222" text-anchor="middle">1 - Specificity</text>
<text transform="translate(358.40 545.40) rotate(-90)" font-size="3.25" fill="#222" text-anchor="middle">Sensitivity</text>
<clipPath id="rc6"><rect x="366.15" y="490.30" width="107.60" height="110.50"/></clipPath>
<clipPath id="rk6"><rect x="366.85" y="490.30" width="107.10" height="110.50"/></clipPath>
<g clip-path="url(#rc6)" fill="none" stroke-linejoin="miter">
<polyline points="366.40,600.50 367.47,569.01 368.76,542.78 369.29,522.52 372.29,513.39 376.36,506.25 382.46,506.25 399.71,506.25 400.67,501.63 406.88,500.17 409.88,496.07 427.45,496.07 431.20,495.55 473.50,495.55" stroke="#ff1493" stroke-width="1.15" stroke-linecap="round" stroke-dasharray="0.01 2.45"/>
<polyline points="366.40,600.50 367.47,569.01 368.76,548.02 369.29,527.66 369.72,520.53 371.75,514.44 375.29,508.77 378.40,506.78 385.46,505.20 391.03,503.73 393.60,500.17 401.74,499.12 409.88,498.07 418.88,497.33 427.13,496.60 431.20,495.55 473.50,495.55" stroke="#000080" stroke-width="1.15" stroke-linecap="round" stroke-dasharray="0.01 2.45" stroke-dashoffset="1.2"/>
<g clip-path="url(#rk6)">
<polyline points="366.40,590.53 368.97,590.53 368.97,575.84" stroke="#5799c7" stroke-width="0.80" stroke-opacity="1.00"/>
<polyline points="370.15,520.74 371.33,520.74 371.33,510.56 391.03,510.56 391.03,505.52 392.64,505.52 392.64,500.59 400.67,500.59 400.67,495.55" stroke="#5799c7" stroke-width="0.80" stroke-opacity="1.00"/>
<polyline points="366.40,600.50 366.40,575.84 368.97,575.84 368.97,550.65 371.75,550.65 371.75,525.35 374.86,525.35 374.86,515.70 379.89,515.70 379.89,510.56 382.46,510.56 382.46,505.73 425.09,505.73 425.09,500.69 430.87,500.69 430.87,495.55 473.50,495.55" stroke="#ff9f4a" stroke-width="0.80" stroke-opacity="1.00"/>
<polyline points="366.40,600.50 366.40,518.01 368.43,518.01 368.43,506.25 373.47,506.25 373.47,501.11 391.57,501.11 391.57,495.55 473.50,495.55" stroke="#61b861" stroke-width="0.80" stroke-opacity="1.00"/>
</g>
<line x1="366.40" y1="600.50" x2="473.50" y2="495.55" stroke="#000" stroke-width="0.8" stroke-dasharray="2.2 1.0"/>
</g>
<path d="M366.40 490.30H473.50" fill="none" stroke="#e2e2e2" stroke-width="0.7"/>
<path d="M473.50 490.30V600.50" fill="none" stroke="#b4b4b4" stroke-width="0.7"/>
<path d="M366.40 600.50H473.50" fill="none" stroke="#bdbdbd" stroke-width="0.7"/>
<path d="M366.40 490.30V600.50" fill="none" stroke="#8e8e8e" stroke-width="0.75"/>
<line x1="366.40" y1="600.50" x2="366.40" y2="600.50" stroke="#ff3b8a" stroke-opacity="0.75" stroke-width="0.8" stroke-dasharray="1.1 1.35"/>
<rect x="390.80" y="568.00" width="79.30" height="30.60" rx="0.8" fill="#fff" fill-opacity="0.8" stroke="#d4d4d4" stroke-width="0.4"/>
<line x1="393.10" y1="571.50" x2="399.70" y2="571.50" stroke="#ff1493" stroke-width="1.15" stroke-linecap="round" stroke-dasharray="0.01 2.45"/>
<text x="403.10" y="572.70" font-size="3.29" fill="#222">micro AUC: 0.944 (95%CI 0.911-0.977)</text>
<line x1="393.10" y1="577.40" x2="399.70" y2="577.40" stroke="#000080" stroke-width="1.15" stroke-linecap="round" stroke-dasharray="0.01 2.45"/>
<text x="403.10" y="578.60" font-size="3.29" fill="#222">macro AUC: 0.949 (95%CI 0.885-0.997)</text>
<line x1="392.50" y1="583.30" x2="399.60" y2="583.30" stroke="#5799c7" stroke-width="0.80" stroke-opacity="1.00"/>
<text x="403.10" y="584.50" font-size="3.29" fill="#222">class 0 AUC: 0.940 (95%CI 0.880-1.000)</text>
<line x1="392.50" y1="589.20" x2="399.60" y2="589.20" stroke="#ff9f4a" stroke-width="0.80" stroke-opacity="1.00"/>
<text x="403.10" y="590.40" font-size="3.29" fill="#222">class 1 AUC: 0.907 (95%CI 0.823-0.991)</text>
<line x1="392.50" y1="595.10" x2="399.60" y2="595.10" stroke="#61b861" stroke-width="0.80" stroke-opacity="1.00"/>
<text x="403.10" y="596.30" font-size="3.29" fill="#222">class 2 AUC: 0.981 (95%CI 0.953-1.000)</text>
</g>
<g font-family="'DejaVu Sans', 'Liberation Sans', sans-serif">
<line x1="678.60" y1="604.30" x2="678.60" y2="605.30" stroke="#666" stroke-width="0.35"/>
<line x1="677.60" y1="604.30" x2="678.60" y2="604.30" stroke="#666" stroke-width="0.35"/>
<text x="678.60" y="608.80" font-size="3.25" fill="#222" text-anchor="middle">0.0</text>
<text x="677.00" y="605.50" font-size="3.25" fill="#222" text-anchor="end">0.0</text>
<line x1="700.00" y1="604.30" x2="700.00" y2="605.30" stroke="#666" stroke-width="0.35"/>
<line x1="677.60" y1="583.52" x2="678.60" y2="583.52" stroke="#666" stroke-width="0.35"/>
<text x="700.00" y="608.80" font-size="3.25" fill="#222" text-anchor="middle">0.2</text>
<text x="677.00" y="584.72" font-size="3.25" fill="#222" text-anchor="end">0.2</text>
<line x1="721.40" y1="604.30" x2="721.40" y2="605.30" stroke="#666" stroke-width="0.35"/>
<line x1="677.60" y1="562.74" x2="678.60" y2="562.74" stroke="#666" stroke-width="0.35"/>
<text x="721.40" y="608.80" font-size="3.25" fill="#222" text-anchor="middle">0.4</text>
<text x="677.00" y="563.94" font-size="3.25" fill="#222" text-anchor="end">0.4</text>
<line x1="742.80" y1="604.30" x2="742.80" y2="605.30" stroke="#666" stroke-width="0.35"/>
<line x1="677.60" y1="541.96" x2="678.60" y2="541.96" stroke="#666" stroke-width="0.35"/>
<text x="742.80" y="608.80" font-size="3.25" fill="#222" text-anchor="middle">0.6</text>
<text x="677.00" y="543.16" font-size="3.25" fill="#222" text-anchor="end">0.6</text>
<line x1="764.20" y1="604.30" x2="764.20" y2="605.30" stroke="#666" stroke-width="0.35"/>
<line x1="677.60" y1="521.18" x2="678.60" y2="521.18" stroke="#666" stroke-width="0.35"/>
<text x="764.20" y="608.80" font-size="3.25" fill="#222" text-anchor="middle">0.8</text>
<text x="677.00" y="522.38" font-size="3.25" fill="#222" text-anchor="end">0.8</text>
<line x1="785.60" y1="604.30" x2="785.60" y2="605.30" stroke="#666" stroke-width="0.35"/>
<line x1="677.60" y1="500.40" x2="678.60" y2="500.40" stroke="#666" stroke-width="0.35"/>
<text x="785.60" y="608.80" font-size="3.25" fill="#222" text-anchor="middle">1.0</text>
<text x="677.00" y="501.60" font-size="3.25" fill="#222" text-anchor="end">1.0</text>
<text x="732.10" y="613.90" font-size="3.25" fill="#222" text-anchor="middle">1 - Specificity</text>
<text transform="translate(670.60 549.75) rotate(-90)" font-size="3.25" fill="#222" text-anchor="middle">Sensitivity</text>
<clipPath id="rc7"><rect x="678.35" y="495.20" width="107.50" height="109.40"/></clipPath>
<clipPath id="rk7"><rect x="679.05" y="495.20" width="107.00" height="109.40"/></clipPath>
<g clip-path="url(#rc7)" fill="none" stroke-linejoin="miter">
<g clip-path="url(#rk7)">
<polyline points="678.60,604.30 678.60,526.89 681.38,526.89 681.38,521.18 683.42,521.18 683.42,514.42 686.41,514.42 686.41,500.40 785.60,500.40" stroke="#5799c7" stroke-width="0.80" stroke-opacity="1.00"/>
<polyline points="678.60,604.30 678.60,530.01 686.41,530.01 686.41,515.25 691.44,515.25 691.44,505.49 713.59,505.49 713.59,500.40 785.60,500.40" stroke="#ff9f4a" stroke-width="0.80" stroke-opacity="1.00"/>
<polyline points="678.60,604.30 678.60,526.79 681.38,526.79 681.38,521.18 695.51,521.18 695.51,500.40 785.60,500.40" stroke="#61b861" stroke-width="0.80" stroke-opacity="1.00"/>
</g>
<polyline points="678.60,604.30 679.13,551.52 680.10,536.45 680.63,530.32 683.20,525.33 686.20,516.71 692.30,515.25 694.86,507.67 695.83,502.16 703.42,501.64 705.35,500.71 707.49,500.40 785.60,500.40" stroke="#ff1493" stroke-width="1.15" stroke-linecap="round" stroke-dasharray="0.01 2.45"/>
<polyline points="678.60,604.30 678.81,552.35 679.13,528.35 681.60,523.25 684.16,519.72 686.73,512.24 689.30,509.64 691.76,507.15 693.79,504.14 695.83,501.64 702.46,500.81 707.49,500.40 785.60,500.40" stroke="#000080" stroke-width="1.15" stroke-linecap="round" stroke-dasharray="0.01 2.45" stroke-dashoffset="1.2"/>
<line x1="678.60" y1="604.30" x2="785.60" y2="500.40" stroke="#000" stroke-width="0.8" stroke-dasharray="2.2 1.0"/>
</g>
<path d="M678.60 495.20H785.60" fill="none" stroke="#b4b4b4" stroke-width="0.7"/>
<path d="M785.60 495.20V604.30" fill="none" stroke="#b4b4b4" stroke-width="0.7"/>
<path d="M678.60 604.30H785.60" fill="none" stroke="#bdbdbd" stroke-width="0.7"/>
<path d="M678.60 495.20V604.30" fill="none" stroke="#8e8e8e" stroke-width="0.75"/>
<line x1="678.60" y1="604.30" x2="678.60" y2="551.52" stroke="#ff3b8a" stroke-opacity="0.75" stroke-width="0.8" stroke-dasharray="1.1 1.35"/>
<rect x="703.10" y="572.20" width="79.30" height="30.60" rx="0.8" fill="#fff" fill-opacity="0.8" stroke="#d4d4d4" stroke-width="0.4"/>
<line x1="705.40" y1="575.70" x2="712.00" y2="575.70" stroke="#ff1493" stroke-width="1.15" stroke-linecap="round" stroke-dasharray="0.01 2.45"/>
<text x="715.40" y="576.90" font-size="3.29" fill="#222">micro AUC: 0.968 (95%CI 0.948-0.988)</text>
<line x1="705.40" y1="581.60" x2="712.00" y2="581.60" stroke="#000080" stroke-width="1.15" stroke-linecap="round" stroke-dasharray="0.01 2.45"/>
<text x="715.40" y="582.80" font-size="3.29" fill="#222">macro AUC: 0.976 (95%CI 0.940-1.000)</text>
<line x1="704.80" y1="587.50" x2="711.90" y2="587.50" stroke="#5799c7" stroke-width="0.80" stroke-opacity="1.00"/>
<text x="715.40" y="588.70" font-size="3.29" fill="#222">class 0 AUC: 0.985 (95%CI 0.966-1.000)</text>
<line x1="704.80" y1="593.40" x2="711.90" y2="593.40" stroke="#ff9f4a" stroke-width="0.80" stroke-opacity="1.00"/>
<text x="715.40" y="594.60" font-size="3.29" fill="#222">class 1 AUC: 0.960 (95%CI 0.920-1.000)</text>
<line x1="704.80" y1="599.30" x2="711.90" y2="599.30" stroke="#61b861" stroke-width="0.80" stroke-opacity="1.00"/>
<text x="715.40" y="600.50" font-size="3.29" fill="#222">class 2 AUC: 0.967 (95%CI 0.931-1.000)</text>
</g>
</svg>
</body></html>
